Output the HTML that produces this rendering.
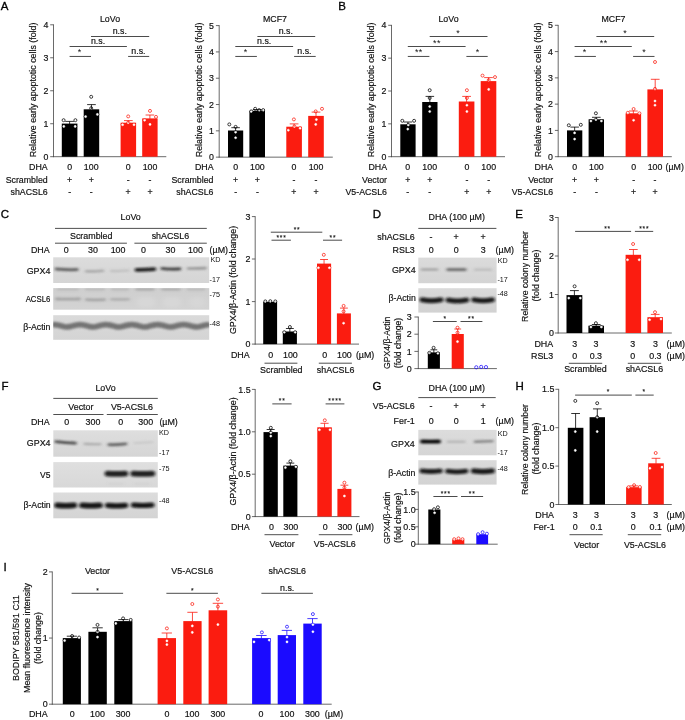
<!DOCTYPE html>
<html><head><meta charset="utf-8"><title>Figure</title>
<style>
html,body{margin:0;padding:0;background:#fff;}
svg{display:block;font-family:"Liberation Sans",sans-serif;}
text{stroke:#111;stroke-width:0.18px;}
</style></head>
<body>
<svg width="685" height="720" viewBox="0 0 685 720">
<defs>
<filter id="bl" filterUnits="userSpaceOnUse" x="0" y="200" width="685" height="340"><feGaussianBlur stdDeviation="1.4 0.85"/></filter>
<filter id="bl2" filterUnits="userSpaceOnUse" x="0" y="200" width="685" height="340"><feGaussianBlur stdDeviation="2.5 1.6"/></filter>
<filter id="bl3" filterUnits="userSpaceOnUse" x="0" y="200" width="685" height="340"><feGaussianBlur stdDeviation="1.3 1.2"/></filter>
</defs>
<rect width="685" height="720" fill="#fff"/>
<text x="0.80" y="9.60" font-size="11.5" fill="#000" style="stroke:#000;stroke-width:0.3px">A</text>
<text x="338.20" y="9.60" font-size="11.5" fill="#000" style="stroke:#000;stroke-width:0.3px">B</text>
<text x="0.80" y="218.20" font-size="11.5" fill="#000" style="stroke:#000;stroke-width:0.3px">C</text>
<text x="372.80" y="217.80" font-size="11.5" fill="#000" style="stroke:#000;stroke-width:0.3px">D</text>
<text x="515.20" y="218.20" font-size="11.5" fill="#000" style="stroke:#000;stroke-width:0.3px">E</text>
<text x="1.60" y="389.70" font-size="11.5" fill="#000" style="stroke:#000;stroke-width:0.3px">F</text>
<text x="372.40" y="389.70" font-size="11.5" fill="#000" style="stroke:#000;stroke-width:0.3px">G</text>
<text x="515.60" y="389.70" font-size="11.5" fill="#000" style="stroke:#000;stroke-width:0.3px">H</text>
<text x="3.40" y="570.70" font-size="11.5" fill="#000" style="stroke:#000;stroke-width:0.3px">I</text>
<line x1="53.50" y1="24.40" x2="53.50" y2="157.10" stroke="#444" stroke-width="0.8"/>
<line x1="53.10" y1="156.70" x2="166.30" y2="156.70" stroke="#444" stroke-width="0.8"/>
<line x1="50.20" y1="156.70" x2="53.50" y2="156.70" stroke="#444" stroke-width="0.8"/>
<text x="48.30" y="159.80" text-anchor="end" font-size="8.8" fill="#111">0</text>
<line x1="50.20" y1="123.72" x2="53.50" y2="123.72" stroke="#444" stroke-width="0.8"/>
<text x="48.30" y="126.82" text-anchor="end" font-size="8.8" fill="#111">1</text>
<line x1="50.20" y1="90.75" x2="53.50" y2="90.75" stroke="#444" stroke-width="0.8"/>
<text x="48.30" y="93.85" text-anchor="end" font-size="8.8" fill="#111">2</text>
<line x1="50.20" y1="57.78" x2="53.50" y2="57.78" stroke="#444" stroke-width="0.8"/>
<text x="48.30" y="60.88" text-anchor="end" font-size="8.8" fill="#111">3</text>
<line x1="50.20" y1="24.80" x2="53.50" y2="24.80" stroke="#444" stroke-width="0.8"/>
<text x="48.30" y="27.90" text-anchor="end" font-size="8.8" fill="#111">4</text>
<text x="110.00" y="21.90" text-anchor="middle" font-size="8.8" fill="#111">LoVo</text>
<text transform="translate(36.10,89.90) rotate(-90)" text-anchor="middle" font-size="8.85" fill="#111">Relative early apoptotic cells (fold)</text>
<line x1="69.60" y1="121.40" x2="69.60" y2="124.10" stroke="#000" stroke-width="0.8"/>
<line x1="65.23" y1="121.40" x2="73.97" y2="121.40" stroke="#000" stroke-width="0.8"/>
<rect x="61.80" y="123.60" width="15.60" height="33.10" fill="#000"/>
<clipPath id="c1"><rect x="61.80" y="123.60" width="15.60" height="33.10"/></clipPath>
<circle cx="63.60" cy="120.20" r="1.5" fill="none" stroke="#000" stroke-width="0.75"/>
<circle cx="63.60" cy="120.20" r="1.05" fill="#fff" stroke="#fff" stroke-width="0.5" clip-path="url(#c1)"/>
<circle cx="75.40" cy="120.20" r="1.5" fill="none" stroke="#000" stroke-width="0.75"/>
<circle cx="75.40" cy="120.20" r="1.05" fill="#fff" stroke="#fff" stroke-width="0.5" clip-path="url(#c1)"/>
<circle cx="63.80" cy="126.40" r="1.5" fill="none" stroke="#000" stroke-width="0.75"/>
<circle cx="63.80" cy="126.40" r="1.05" fill="#fff" stroke="#fff" stroke-width="0.5" clip-path="url(#c1)"/>
<circle cx="75.20" cy="126.40" r="1.5" fill="none" stroke="#000" stroke-width="0.75"/>
<circle cx="75.20" cy="126.40" r="1.05" fill="#fff" stroke="#fff" stroke-width="0.5" clip-path="url(#c1)"/>
<line x1="91.45" y1="104.60" x2="91.45" y2="109.80" stroke="#000" stroke-width="0.8"/>
<line x1="87.11" y1="104.60" x2="95.79" y2="104.60" stroke="#000" stroke-width="0.8"/>
<rect x="83.70" y="109.30" width="15.50" height="47.40" fill="#000"/>
<clipPath id="c2"><rect x="83.70" y="109.30" width="15.50" height="47.40"/></clipPath>
<circle cx="91.20" cy="96.80" r="1.5" fill="none" stroke="#000" stroke-width="0.75"/>
<circle cx="91.20" cy="96.80" r="1.05" fill="#fff" stroke="#fff" stroke-width="0.5" clip-path="url(#c2)"/>
<circle cx="91.20" cy="108.20" r="1.5" fill="none" stroke="#000" stroke-width="0.75"/>
<circle cx="91.20" cy="108.20" r="1.05" fill="#fff" stroke="#fff" stroke-width="0.5" clip-path="url(#c2)"/>
<circle cx="97.40" cy="114.40" r="1.5" fill="none" stroke="#000" stroke-width="0.75"/>
<circle cx="97.40" cy="114.40" r="1.05" fill="#fff" stroke="#fff" stroke-width="0.5" clip-path="url(#c2)"/>
<circle cx="85.60" cy="116.60" r="1.5" fill="none" stroke="#000" stroke-width="0.75"/>
<circle cx="85.60" cy="116.60" r="1.05" fill="#fff" stroke="#fff" stroke-width="0.5" clip-path="url(#c2)"/>
<line x1="128.35" y1="120.60" x2="128.35" y2="123.20" stroke="#fb1c10" stroke-width="0.8"/>
<line x1="124.01" y1="120.60" x2="132.69" y2="120.60" stroke="#fb1c10" stroke-width="0.8"/>
<rect x="120.60" y="122.70" width="15.50" height="34.00" fill="#fb1c10"/>
<clipPath id="c3"><rect x="120.60" y="122.70" width="15.50" height="34.00"/></clipPath>
<circle cx="128.20" cy="116.40" r="1.5" fill="none" stroke="#fb1c10" stroke-width="0.75"/>
<circle cx="128.20" cy="116.40" r="1.05" fill="#fff" stroke="#fff" stroke-width="0.5" clip-path="url(#c3)"/>
<circle cx="122.60" cy="124.70" r="1.5" fill="none" stroke="#fb1c10" stroke-width="0.75"/>
<circle cx="122.60" cy="124.70" r="1.05" fill="#fff" stroke="#fff" stroke-width="0.5" clip-path="url(#c3)"/>
<circle cx="134.00" cy="124.70" r="1.5" fill="none" stroke="#fb1c10" stroke-width="0.75"/>
<circle cx="134.00" cy="124.70" r="1.05" fill="#fff" stroke="#fff" stroke-width="0.5" clip-path="url(#c3)"/>
<circle cx="128.20" cy="122.60" r="1.5" fill="none" stroke="#fb1c10" stroke-width="0.75"/>
<circle cx="128.20" cy="122.60" r="1.05" fill="#fff" stroke="#fff" stroke-width="0.5" clip-path="url(#c3)"/>
<line x1="149.90" y1="115.00" x2="149.90" y2="118.90" stroke="#fb1c10" stroke-width="0.8"/>
<line x1="145.59" y1="115.00" x2="154.21" y2="115.00" stroke="#fb1c10" stroke-width="0.8"/>
<rect x="142.20" y="118.40" width="15.40" height="38.30" fill="#fb1c10"/>
<clipPath id="c4"><rect x="142.20" y="118.40" width="15.40" height="38.30"/></clipPath>
<circle cx="150.00" cy="110.90" r="1.5" fill="none" stroke="#fb1c10" stroke-width="0.75"/>
<circle cx="150.00" cy="110.90" r="1.05" fill="#fff" stroke="#fff" stroke-width="0.5" clip-path="url(#c4)"/>
<circle cx="156.00" cy="116.90" r="1.5" fill="none" stroke="#fb1c10" stroke-width="0.75"/>
<circle cx="156.00" cy="116.90" r="1.05" fill="#fff" stroke="#fff" stroke-width="0.5" clip-path="url(#c4)"/>
<circle cx="150.00" cy="124.40" r="1.5" fill="none" stroke="#fb1c10" stroke-width="0.75"/>
<circle cx="150.00" cy="124.40" r="1.05" fill="#fff" stroke="#fff" stroke-width="0.5" clip-path="url(#c4)"/>
<circle cx="144.60" cy="120.20" r="1.5" fill="none" stroke="#fb1c10" stroke-width="0.75"/>
<circle cx="144.60" cy="120.20" r="1.05" fill="#fff" stroke="#fff" stroke-width="0.5" clip-path="url(#c4)"/>
<line x1="91.00" y1="36.50" x2="149.20" y2="36.50" stroke="#2a2a2a" stroke-width="0.85"/>
<text x="119.80" y="33.80" text-anchor="middle" font-size="8.8" fill="#111">n.s.</text>
<line x1="69.60" y1="46.50" x2="126.90" y2="46.50" stroke="#2a2a2a" stroke-width="0.85"/>
<text x="98.00" y="43.80" text-anchor="middle" font-size="8.8" fill="#111">n.s.</text>
<line x1="69.60" y1="56.45" x2="91.00" y2="56.45" stroke="#2a2a2a" stroke-width="0.85"/>
<text x="79.60" y="55.45" text-anchor="middle" font-size="9.0" fill="#111" letter-spacing="0.4" style="stroke:none">*</text>
<line x1="128.10" y1="56.45" x2="149.20" y2="56.45" stroke="#2a2a2a" stroke-width="0.85"/>
<text x="138.40" y="53.75" text-anchor="middle" font-size="8.8" fill="#111">n.s.</text>
<text x="47.70" y="169.70" text-anchor="end" font-size="8.8" fill="#111">DHA</text>
<text x="69.60" y="169.70" text-anchor="middle" font-size="8.8" fill="#111">0</text>
<text x="91.20" y="169.70" text-anchor="middle" font-size="8.8" fill="#111">100</text>
<text x="128.10" y="169.70" text-anchor="middle" font-size="8.8" fill="#111">0</text>
<text x="150.00" y="169.70" text-anchor="middle" font-size="8.8" fill="#111">100</text>
<text x="47.70" y="182.90" text-anchor="end" font-size="8.8" fill="#111">Scrambled</text>
<text x="69.60" y="182.90" text-anchor="middle" font-size="8.8" fill="#111">+</text>
<text x="91.20" y="182.90" text-anchor="middle" font-size="8.8" fill="#111">+</text>
<text x="128.10" y="182.90" text-anchor="middle" font-size="8.8" fill="#111">-</text>
<text x="150.00" y="182.90" text-anchor="middle" font-size="8.8" fill="#111">-</text>
<text x="47.70" y="194.60" text-anchor="end" font-size="8.8" fill="#111">shACSL6</text>
<text x="69.60" y="194.60" text-anchor="middle" font-size="8.8" fill="#111">-</text>
<text x="91.20" y="194.60" text-anchor="middle" font-size="8.8" fill="#111">-</text>
<text x="128.10" y="194.60" text-anchor="middle" font-size="8.8" fill="#111">+</text>
<text x="150.00" y="194.60" text-anchor="middle" font-size="8.8" fill="#111">+</text>
<line x1="219.20" y1="25.20" x2="219.20" y2="157.55" stroke="#444" stroke-width="0.8"/>
<line x1="218.80" y1="157.15" x2="332.80" y2="157.15" stroke="#444" stroke-width="0.8"/>
<line x1="215.90" y1="157.15" x2="219.20" y2="157.15" stroke="#444" stroke-width="0.8"/>
<text x="214.00" y="160.25" text-anchor="end" font-size="8.8" fill="#111">0</text>
<line x1="215.90" y1="130.84" x2="219.20" y2="130.84" stroke="#444" stroke-width="0.8"/>
<text x="214.00" y="133.94" text-anchor="end" font-size="8.8" fill="#111">1</text>
<line x1="215.90" y1="104.53" x2="219.20" y2="104.53" stroke="#444" stroke-width="0.8"/>
<text x="214.00" y="107.63" text-anchor="end" font-size="8.8" fill="#111">2</text>
<line x1="215.90" y1="78.22" x2="219.20" y2="78.22" stroke="#444" stroke-width="0.8"/>
<text x="214.00" y="81.32" text-anchor="end" font-size="8.8" fill="#111">3</text>
<line x1="215.90" y1="51.91" x2="219.20" y2="51.91" stroke="#444" stroke-width="0.8"/>
<text x="214.00" y="55.01" text-anchor="end" font-size="8.8" fill="#111">4</text>
<line x1="215.90" y1="25.60" x2="219.20" y2="25.60" stroke="#444" stroke-width="0.8"/>
<text x="214.00" y="28.70" text-anchor="end" font-size="8.8" fill="#111">5</text>
<text x="275.00" y="21.90" text-anchor="middle" font-size="8.8" fill="#111">MCF7</text>
<text transform="translate(201.70,89.90) rotate(-90)" text-anchor="middle" font-size="8.85" fill="#111">Relative early apoptotic cells (fold)</text>
<line x1="235.60" y1="127.70" x2="235.60" y2="131.00" stroke="#000" stroke-width="0.8"/>
<line x1="231.34" y1="127.70" x2="239.86" y2="127.70" stroke="#000" stroke-width="0.8"/>
<rect x="228.00" y="130.50" width="15.20" height="26.65" fill="#000"/>
<clipPath id="c5"><rect x="228.00" y="130.50" width="15.20" height="26.65"/></clipPath>
<circle cx="229.30" cy="124.40" r="1.5" fill="none" stroke="#000" stroke-width="0.75"/>
<circle cx="229.30" cy="124.40" r="1.05" fill="#fff" stroke="#fff" stroke-width="0.5" clip-path="url(#c5)"/>
<circle cx="235.60" cy="126.90" r="1.5" fill="none" stroke="#000" stroke-width="0.75"/>
<circle cx="235.60" cy="126.90" r="1.05" fill="#fff" stroke="#fff" stroke-width="0.5" clip-path="url(#c5)"/>
<circle cx="235.60" cy="132.20" r="1.5" fill="none" stroke="#000" stroke-width="0.75"/>
<circle cx="235.60" cy="132.20" r="1.05" fill="#fff" stroke="#fff" stroke-width="0.5" clip-path="url(#c5)"/>
<circle cx="235.60" cy="137.70" r="1.5" fill="none" stroke="#000" stroke-width="0.75"/>
<circle cx="235.60" cy="137.70" r="1.05" fill="#fff" stroke="#fff" stroke-width="0.5" clip-path="url(#c5)"/>
<line x1="257.20" y1="109.60" x2="257.20" y2="111.40" stroke="#000" stroke-width="0.8"/>
<line x1="252.83" y1="109.60" x2="261.57" y2="109.60" stroke="#000" stroke-width="0.8"/>
<rect x="249.40" y="110.90" width="15.60" height="46.25" fill="#000"/>
<clipPath id="c6"><rect x="249.40" y="110.90" width="15.60" height="46.25"/></clipPath>
<circle cx="251.20" cy="111.40" r="1.5" fill="none" stroke="#000" stroke-width="0.75"/>
<circle cx="251.20" cy="111.40" r="1.05" fill="#fff" stroke="#fff" stroke-width="0.5" clip-path="url(#c6)"/>
<circle cx="255.20" cy="108.80" r="1.5" fill="none" stroke="#000" stroke-width="0.75"/>
<circle cx="255.20" cy="108.80" r="1.05" fill="#fff" stroke="#fff" stroke-width="0.5" clip-path="url(#c6)"/>
<circle cx="259.20" cy="110.10" r="1.5" fill="none" stroke="#000" stroke-width="0.75"/>
<circle cx="259.20" cy="110.10" r="1.05" fill="#fff" stroke="#fff" stroke-width="0.5" clip-path="url(#c6)"/>
<circle cx="263.20" cy="110.10" r="1.5" fill="none" stroke="#000" stroke-width="0.75"/>
<circle cx="263.20" cy="110.10" r="1.05" fill="#fff" stroke="#fff" stroke-width="0.5" clip-path="url(#c6)"/>
<line x1="294.10" y1="123.90" x2="294.10" y2="127.20" stroke="#fb1c10" stroke-width="0.8"/>
<line x1="289.73" y1="123.90" x2="298.47" y2="123.90" stroke="#fb1c10" stroke-width="0.8"/>
<rect x="286.30" y="126.70" width="15.60" height="30.45" fill="#fb1c10"/>
<clipPath id="c7"><rect x="286.30" y="126.70" width="15.60" height="30.45"/></clipPath>
<circle cx="293.90" cy="119.40" r="1.5" fill="none" stroke="#fb1c10" stroke-width="0.75"/>
<circle cx="293.90" cy="119.40" r="1.05" fill="#fff" stroke="#fff" stroke-width="0.5" clip-path="url(#c7)"/>
<circle cx="288.30" cy="130.20" r="1.5" fill="none" stroke="#fb1c10" stroke-width="0.75"/>
<circle cx="288.30" cy="130.20" r="1.05" fill="#fff" stroke="#fff" stroke-width="0.5" clip-path="url(#c7)"/>
<circle cx="294.40" cy="126.40" r="1.5" fill="none" stroke="#fb1c10" stroke-width="0.75"/>
<circle cx="294.40" cy="126.40" r="1.05" fill="#fff" stroke="#fff" stroke-width="0.5" clip-path="url(#c7)"/>
<circle cx="300.10" cy="128.20" r="1.5" fill="none" stroke="#fb1c10" stroke-width="0.75"/>
<circle cx="300.10" cy="128.20" r="1.05" fill="#fff" stroke="#fff" stroke-width="0.5" clip-path="url(#c7)"/>
<line x1="316.00" y1="112.10" x2="316.00" y2="116.40" stroke="#fb1c10" stroke-width="0.8"/>
<line x1="311.63" y1="112.10" x2="320.37" y2="112.10" stroke="#fb1c10" stroke-width="0.8"/>
<rect x="308.20" y="115.90" width="15.60" height="41.25" fill="#fb1c10"/>
<clipPath id="c8"><rect x="308.20" y="115.90" width="15.60" height="41.25"/></clipPath>
<circle cx="322.00" cy="108.80" r="1.5" fill="none" stroke="#fb1c10" stroke-width="0.75"/>
<circle cx="322.00" cy="108.80" r="1.05" fill="#fff" stroke="#fff" stroke-width="0.5" clip-path="url(#c8)"/>
<circle cx="315.70" cy="111.40" r="1.5" fill="none" stroke="#fb1c10" stroke-width="0.75"/>
<circle cx="315.70" cy="111.40" r="1.05" fill="#fff" stroke="#fff" stroke-width="0.5" clip-path="url(#c8)"/>
<circle cx="316.40" cy="119.60" r="1.5" fill="none" stroke="#fb1c10" stroke-width="0.75"/>
<circle cx="316.40" cy="119.60" r="1.05" fill="#fff" stroke="#fff" stroke-width="0.5" clip-path="url(#c8)"/>
<circle cx="315.70" cy="124.40" r="1.5" fill="none" stroke="#fb1c10" stroke-width="0.75"/>
<circle cx="315.70" cy="124.40" r="1.05" fill="#fff" stroke="#fff" stroke-width="0.5" clip-path="url(#c8)"/>
<line x1="257.40" y1="36.50" x2="315.20" y2="36.50" stroke="#2a2a2a" stroke-width="0.85"/>
<text x="285.80" y="33.80" text-anchor="middle" font-size="8.8" fill="#111">n.s.</text>
<line x1="235.30" y1="46.50" x2="293.10" y2="46.50" stroke="#2a2a2a" stroke-width="0.85"/>
<text x="264.20" y="43.80" text-anchor="middle" font-size="8.8" fill="#111">n.s.</text>
<line x1="235.30" y1="56.45" x2="256.90" y2="56.45" stroke="#2a2a2a" stroke-width="0.85"/>
<text x="245.60" y="55.45" text-anchor="middle" font-size="9.0" fill="#111" letter-spacing="0.4" style="stroke:none">*</text>
<line x1="294.10" y1="56.45" x2="315.70" y2="56.45" stroke="#2a2a2a" stroke-width="0.85"/>
<text x="304.40" y="53.75" text-anchor="middle" font-size="8.8" fill="#111">n.s.</text>
<text x="213.50" y="169.70" text-anchor="end" font-size="8.8" fill="#111">DHA</text>
<text x="235.60" y="169.70" text-anchor="middle" font-size="8.8" fill="#111">0</text>
<text x="257.40" y="169.70" text-anchor="middle" font-size="8.8" fill="#111">100</text>
<text x="293.90" y="169.70" text-anchor="middle" font-size="8.8" fill="#111">0</text>
<text x="316.00" y="169.70" text-anchor="middle" font-size="8.8" fill="#111">100</text>
<text x="213.50" y="182.90" text-anchor="end" font-size="8.8" fill="#111">Scrambled</text>
<text x="235.60" y="182.90" text-anchor="middle" font-size="8.8" fill="#111">+</text>
<text x="257.40" y="182.90" text-anchor="middle" font-size="8.8" fill="#111">+</text>
<text x="293.90" y="182.90" text-anchor="middle" font-size="8.8" fill="#111">-</text>
<text x="316.00" y="182.90" text-anchor="middle" font-size="8.8" fill="#111">-</text>
<text x="213.50" y="194.60" text-anchor="end" font-size="8.8" fill="#111">shACSL6</text>
<text x="235.60" y="194.60" text-anchor="middle" font-size="8.8" fill="#111">-</text>
<text x="257.40" y="194.60" text-anchor="middle" font-size="8.8" fill="#111">-</text>
<text x="293.90" y="194.60" text-anchor="middle" font-size="8.8" fill="#111">+</text>
<text x="316.00" y="194.60" text-anchor="middle" font-size="8.8" fill="#111">+</text>
<line x1="391.50" y1="24.90" x2="391.50" y2="157.10" stroke="#444" stroke-width="0.8"/>
<line x1="391.10" y1="156.70" x2="505.00" y2="156.70" stroke="#444" stroke-width="0.8"/>
<line x1="388.20" y1="156.70" x2="391.50" y2="156.70" stroke="#444" stroke-width="0.8"/>
<text x="386.30" y="159.80" text-anchor="end" font-size="8.8" fill="#111">0</text>
<line x1="388.20" y1="123.85" x2="391.50" y2="123.85" stroke="#444" stroke-width="0.8"/>
<text x="386.30" y="126.95" text-anchor="end" font-size="8.8" fill="#111">1</text>
<line x1="388.20" y1="91.00" x2="391.50" y2="91.00" stroke="#444" stroke-width="0.8"/>
<text x="386.30" y="94.10" text-anchor="end" font-size="8.8" fill="#111">2</text>
<line x1="388.20" y1="58.15" x2="391.50" y2="58.15" stroke="#444" stroke-width="0.8"/>
<text x="386.30" y="61.25" text-anchor="end" font-size="8.8" fill="#111">3</text>
<line x1="388.20" y1="25.30" x2="391.50" y2="25.30" stroke="#444" stroke-width="0.8"/>
<text x="386.30" y="28.40" text-anchor="end" font-size="8.8" fill="#111">4</text>
<text x="448.50" y="21.90" text-anchor="middle" font-size="8.8" fill="#111">LoVo</text>
<text transform="translate(374.10,89.90) rotate(-90)" text-anchor="middle" font-size="8.85" fill="#111">Relative early apoptotic cells (fold)</text>
<line x1="407.95" y1="122.00" x2="407.95" y2="124.80" stroke="#000" stroke-width="0.8"/>
<line x1="403.67" y1="122.00" x2="412.23" y2="122.00" stroke="#000" stroke-width="0.8"/>
<rect x="400.30" y="124.30" width="15.30" height="32.40" fill="#000"/>
<clipPath id="c9"><rect x="400.30" y="124.30" width="15.30" height="32.40"/></clipPath>
<circle cx="402.30" cy="120.80" r="1.5" fill="none" stroke="#000" stroke-width="0.75"/>
<circle cx="402.30" cy="120.80" r="1.05" fill="#fff" stroke="#fff" stroke-width="0.5" clip-path="url(#c9)"/>
<circle cx="414.10" cy="120.80" r="1.5" fill="none" stroke="#000" stroke-width="0.75"/>
<circle cx="414.10" cy="120.80" r="1.05" fill="#fff" stroke="#fff" stroke-width="0.5" clip-path="url(#c9)"/>
<circle cx="407.80" cy="129.10" r="1.5" fill="none" stroke="#000" stroke-width="0.75"/>
<circle cx="407.80" cy="129.10" r="1.05" fill="#fff" stroke="#fff" stroke-width="0.5" clip-path="url(#c9)"/>
<circle cx="408.30" cy="124.90" r="1.5" fill="none" stroke="#000" stroke-width="0.75"/>
<circle cx="408.30" cy="124.90" r="1.05" fill="#fff" stroke="#fff" stroke-width="0.5" clip-path="url(#c9)"/>
<line x1="429.85" y1="96.40" x2="429.85" y2="102.50" stroke="#000" stroke-width="0.8"/>
<line x1="425.57" y1="96.40" x2="434.13" y2="96.40" stroke="#000" stroke-width="0.8"/>
<rect x="422.20" y="102.00" width="15.30" height="54.70" fill="#000"/>
<clipPath id="c10"><rect x="422.20" y="102.00" width="15.30" height="54.70"/></clipPath>
<circle cx="429.70" cy="90.20" r="1.5" fill="none" stroke="#000" stroke-width="0.75"/>
<circle cx="429.70" cy="90.20" r="1.05" fill="#fff" stroke="#fff" stroke-width="0.5" clip-path="url(#c10)"/>
<circle cx="429.70" cy="106.50" r="1.5" fill="none" stroke="#000" stroke-width="0.75"/>
<circle cx="429.70" cy="106.50" r="1.05" fill="#fff" stroke="#fff" stroke-width="0.5" clip-path="url(#c10)"/>
<circle cx="429.70" cy="111.50" r="1.5" fill="none" stroke="#000" stroke-width="0.75"/>
<circle cx="429.70" cy="111.50" r="1.05" fill="#fff" stroke="#fff" stroke-width="0.5" clip-path="url(#c10)"/>
<circle cx="429.70" cy="98.00" r="1.5" fill="none" stroke="#000" stroke-width="0.75"/>
<circle cx="429.70" cy="98.00" r="1.05" fill="#fff" stroke="#fff" stroke-width="0.5" clip-path="url(#c10)"/>
<line x1="466.60" y1="96.40" x2="466.60" y2="102.00" stroke="#fb1c10" stroke-width="0.8"/>
<line x1="462.23" y1="96.40" x2="470.97" y2="96.40" stroke="#fb1c10" stroke-width="0.8"/>
<rect x="458.80" y="101.50" width="15.60" height="55.20" fill="#fb1c10"/>
<clipPath id="c11"><rect x="458.80" y="101.50" width="15.60" height="55.20"/></clipPath>
<circle cx="466.90" cy="90.20" r="1.5" fill="none" stroke="#fb1c10" stroke-width="0.75"/>
<circle cx="466.90" cy="90.20" r="1.05" fill="#fff" stroke="#fff" stroke-width="0.5" clip-path="url(#c11)"/>
<circle cx="466.90" cy="105.20" r="1.5" fill="none" stroke="#fb1c10" stroke-width="0.75"/>
<circle cx="466.90" cy="105.20" r="1.05" fill="#fff" stroke="#fff" stroke-width="0.5" clip-path="url(#c11)"/>
<circle cx="466.90" cy="111.50" r="1.5" fill="none" stroke="#fb1c10" stroke-width="0.75"/>
<circle cx="466.90" cy="111.50" r="1.05" fill="#fff" stroke="#fff" stroke-width="0.5" clip-path="url(#c11)"/>
<circle cx="466.90" cy="98.00" r="1.5" fill="none" stroke="#fb1c10" stroke-width="0.75"/>
<circle cx="466.90" cy="98.00" r="1.05" fill="#fff" stroke="#fff" stroke-width="0.5" clip-path="url(#c11)"/>
<line x1="488.50" y1="77.60" x2="488.50" y2="81.60" stroke="#fb1c10" stroke-width="0.8"/>
<line x1="484.13" y1="77.60" x2="492.87" y2="77.60" stroke="#fb1c10" stroke-width="0.8"/>
<rect x="480.70" y="81.10" width="15.60" height="75.60" fill="#fb1c10"/>
<clipPath id="c12"><rect x="480.70" y="81.10" width="15.60" height="75.60"/></clipPath>
<circle cx="482.50" cy="75.60" r="1.5" fill="none" stroke="#fb1c10" stroke-width="0.75"/>
<circle cx="482.50" cy="75.60" r="1.05" fill="#fff" stroke="#fff" stroke-width="0.5" clip-path="url(#c12)"/>
<circle cx="495.00" cy="77.10" r="1.5" fill="none" stroke="#fb1c10" stroke-width="0.75"/>
<circle cx="495.00" cy="77.10" r="1.05" fill="#fff" stroke="#fff" stroke-width="0.5" clip-path="url(#c12)"/>
<circle cx="488.70" cy="80.10" r="1.5" fill="none" stroke="#fb1c10" stroke-width="0.75"/>
<circle cx="488.70" cy="80.10" r="1.05" fill="#fff" stroke="#fff" stroke-width="0.5" clip-path="url(#c12)"/>
<circle cx="488.70" cy="89.40" r="1.5" fill="none" stroke="#fb1c10" stroke-width="0.75"/>
<circle cx="488.70" cy="89.40" r="1.05" fill="#fff" stroke="#fff" stroke-width="0.5" clip-path="url(#c12)"/>
<line x1="429.70" y1="36.50" x2="487.50" y2="36.50" stroke="#2a2a2a" stroke-width="0.85"/>
<text x="458.30" y="35.50" text-anchor="middle" font-size="9.0" fill="#111" letter-spacing="0.4" style="stroke:none">*</text>
<line x1="407.80" y1="46.50" x2="465.60" y2="46.50" stroke="#2a2a2a" stroke-width="0.85"/>
<text x="436.90" y="45.50" text-anchor="middle" font-size="9.0" fill="#111" letter-spacing="0.4" style="stroke:none">**</text>
<line x1="407.80" y1="56.45" x2="429.40" y2="56.45" stroke="#2a2a2a" stroke-width="0.85"/>
<text x="418.80" y="55.45" text-anchor="middle" font-size="9.0" fill="#111" letter-spacing="0.4" style="stroke:none">**</text>
<line x1="466.40" y1="56.45" x2="487.70" y2="56.45" stroke="#2a2a2a" stroke-width="0.85"/>
<text x="477.60" y="55.45" text-anchor="middle" font-size="9.0" fill="#111" letter-spacing="0.4" style="stroke:none">*</text>
<text x="387.00" y="169.70" text-anchor="end" font-size="8.8" fill="#111">DHA</text>
<text x="407.80" y="169.70" text-anchor="middle" font-size="8.8" fill="#111">0</text>
<text x="429.70" y="169.70" text-anchor="middle" font-size="8.8" fill="#111">100</text>
<text x="466.90" y="169.70" text-anchor="middle" font-size="8.8" fill="#111">0</text>
<text x="488.70" y="169.70" text-anchor="middle" font-size="8.8" fill="#111">100</text>
<text x="387.00" y="182.90" text-anchor="end" font-size="8.8" fill="#111">Vector</text>
<text x="407.80" y="182.90" text-anchor="middle" font-size="8.8" fill="#111">+</text>
<text x="429.70" y="182.90" text-anchor="middle" font-size="8.8" fill="#111">+</text>
<text x="466.90" y="182.90" text-anchor="middle" font-size="8.8" fill="#111">-</text>
<text x="488.70" y="182.90" text-anchor="middle" font-size="8.8" fill="#111">-</text>
<text x="387.00" y="194.60" text-anchor="end" font-size="8.8" fill="#111">V5-ACSL6</text>
<text x="407.80" y="194.60" text-anchor="middle" font-size="8.8" fill="#111">-</text>
<text x="429.70" y="194.60" text-anchor="middle" font-size="8.8" fill="#111">-</text>
<text x="466.90" y="194.60" text-anchor="middle" font-size="8.8" fill="#111">+</text>
<text x="488.70" y="194.60" text-anchor="middle" font-size="8.8" fill="#111">+</text>
<line x1="558.20" y1="24.90" x2="558.20" y2="157.10" stroke="#444" stroke-width="0.8"/>
<line x1="557.80" y1="156.70" x2="671.80" y2="156.70" stroke="#444" stroke-width="0.8"/>
<line x1="554.90" y1="156.70" x2="558.20" y2="156.70" stroke="#444" stroke-width="0.8"/>
<text x="553.00" y="159.80" text-anchor="end" font-size="8.8" fill="#111">0</text>
<line x1="554.90" y1="130.42" x2="558.20" y2="130.42" stroke="#444" stroke-width="0.8"/>
<text x="553.00" y="133.52" text-anchor="end" font-size="8.8" fill="#111">1</text>
<line x1="554.90" y1="104.14" x2="558.20" y2="104.14" stroke="#444" stroke-width="0.8"/>
<text x="553.00" y="107.24" text-anchor="end" font-size="8.8" fill="#111">2</text>
<line x1="554.90" y1="77.86" x2="558.20" y2="77.86" stroke="#444" stroke-width="0.8"/>
<text x="553.00" y="80.96" text-anchor="end" font-size="8.8" fill="#111">3</text>
<line x1="554.90" y1="51.58" x2="558.20" y2="51.58" stroke="#444" stroke-width="0.8"/>
<text x="553.00" y="54.68" text-anchor="end" font-size="8.8" fill="#111">4</text>
<line x1="554.90" y1="25.30" x2="558.20" y2="25.30" stroke="#444" stroke-width="0.8"/>
<text x="553.00" y="28.40" text-anchor="end" font-size="8.8" fill="#111">5</text>
<text x="613.50" y="21.90" text-anchor="middle" font-size="8.8" fill="#111">MCF7</text>
<text transform="translate(540.70,89.90) rotate(-90)" text-anchor="middle" font-size="8.85" fill="#111">Relative early apoptotic cells (fold)</text>
<line x1="574.65" y1="127.10" x2="574.65" y2="130.90" stroke="#000" stroke-width="0.8"/>
<line x1="570.37" y1="127.10" x2="578.93" y2="127.10" stroke="#000" stroke-width="0.8"/>
<rect x="567.00" y="130.40" width="15.30" height="26.30" fill="#000"/>
<clipPath id="c13"><rect x="567.00" y="130.40" width="15.30" height="26.30"/></clipPath>
<circle cx="568.80" cy="125.30" r="1.5" fill="none" stroke="#000" stroke-width="0.75"/>
<circle cx="568.80" cy="125.30" r="1.05" fill="#fff" stroke="#fff" stroke-width="0.5" clip-path="url(#c13)"/>
<circle cx="580.80" cy="124.80" r="1.5" fill="none" stroke="#000" stroke-width="0.75"/>
<circle cx="580.80" cy="124.80" r="1.05" fill="#fff" stroke="#fff" stroke-width="0.5" clip-path="url(#c13)"/>
<circle cx="574.60" cy="132.90" r="1.5" fill="none" stroke="#000" stroke-width="0.75"/>
<circle cx="574.60" cy="132.90" r="1.05" fill="#fff" stroke="#fff" stroke-width="0.5" clip-path="url(#c13)"/>
<circle cx="574.60" cy="139.10" r="1.5" fill="none" stroke="#000" stroke-width="0.75"/>
<circle cx="574.60" cy="139.10" r="1.05" fill="#fff" stroke="#fff" stroke-width="0.5" clip-path="url(#c13)"/>
<line x1="596.30" y1="117.30" x2="596.30" y2="119.80" stroke="#000" stroke-width="0.8"/>
<line x1="591.99" y1="117.30" x2="600.61" y2="117.30" stroke="#000" stroke-width="0.8"/>
<rect x="588.60" y="119.30" width="15.40" height="37.40" fill="#000"/>
<clipPath id="c14"><rect x="588.60" y="119.30" width="15.40" height="37.40"/></clipPath>
<circle cx="595.90" cy="113.30" r="1.5" fill="none" stroke="#000" stroke-width="0.75"/>
<circle cx="595.90" cy="113.30" r="1.05" fill="#fff" stroke="#fff" stroke-width="0.5" clip-path="url(#c14)"/>
<circle cx="590.90" cy="121.00" r="1.5" fill="none" stroke="#000" stroke-width="0.75"/>
<circle cx="590.90" cy="121.00" r="1.05" fill="#fff" stroke="#fff" stroke-width="0.5" clip-path="url(#c14)"/>
<circle cx="595.90" cy="119.60" r="1.5" fill="none" stroke="#000" stroke-width="0.75"/>
<circle cx="595.90" cy="119.60" r="1.05" fill="#fff" stroke="#fff" stroke-width="0.5" clip-path="url(#c14)"/>
<circle cx="601.40" cy="121.00" r="1.5" fill="none" stroke="#000" stroke-width="0.75"/>
<circle cx="601.40" cy="121.00" r="1.05" fill="#fff" stroke="#fff" stroke-width="0.5" clip-path="url(#c14)"/>
<line x1="633.35" y1="111.00" x2="633.35" y2="113.80" stroke="#fb1c10" stroke-width="0.8"/>
<line x1="629.01" y1="111.00" x2="637.69" y2="111.00" stroke="#fb1c10" stroke-width="0.8"/>
<rect x="625.60" y="113.30" width="15.50" height="43.40" fill="#fb1c10"/>
<clipPath id="c15"><rect x="625.60" y="113.30" width="15.50" height="43.40"/></clipPath>
<circle cx="633.60" cy="109.00" r="1.5" fill="none" stroke="#fb1c10" stroke-width="0.75"/>
<circle cx="633.60" cy="109.00" r="1.05" fill="#fff" stroke="#fff" stroke-width="0.5" clip-path="url(#c15)"/>
<circle cx="627.80" cy="112.80" r="1.5" fill="none" stroke="#fb1c10" stroke-width="0.75"/>
<circle cx="627.80" cy="112.80" r="1.05" fill="#fff" stroke="#fff" stroke-width="0.5" clip-path="url(#c15)"/>
<circle cx="639.40" cy="113.30" r="1.5" fill="none" stroke="#fb1c10" stroke-width="0.75"/>
<circle cx="639.40" cy="113.30" r="1.05" fill="#fff" stroke="#fff" stroke-width="0.5" clip-path="url(#c15)"/>
<circle cx="633.60" cy="120.30" r="1.5" fill="none" stroke="#fb1c10" stroke-width="0.75"/>
<circle cx="633.60" cy="120.30" r="1.05" fill="#fff" stroke="#fff" stroke-width="0.5" clip-path="url(#c15)"/>
<line x1="655.20" y1="79.30" x2="655.20" y2="89.90" stroke="#fb1c10" stroke-width="0.8"/>
<line x1="650.83" y1="79.30" x2="659.57" y2="79.30" stroke="#fb1c10" stroke-width="0.8"/>
<rect x="647.40" y="89.40" width="15.60" height="67.30" fill="#fb1c10"/>
<clipPath id="c16"><rect x="647.40" y="89.40" width="15.60" height="67.30"/></clipPath>
<circle cx="655.00" cy="62.00" r="1.5" fill="none" stroke="#fb1c10" stroke-width="0.75"/>
<circle cx="655.00" cy="62.00" r="1.05" fill="#fff" stroke="#fff" stroke-width="0.5" clip-path="url(#c16)"/>
<circle cx="655.00" cy="88.90" r="1.5" fill="none" stroke="#fb1c10" stroke-width="0.75"/>
<circle cx="655.00" cy="88.90" r="1.05" fill="#fff" stroke="#fff" stroke-width="0.5" clip-path="url(#c16)"/>
<circle cx="655.00" cy="101.00" r="1.5" fill="none" stroke="#fb1c10" stroke-width="0.75"/>
<circle cx="655.00" cy="101.00" r="1.05" fill="#fff" stroke="#fff" stroke-width="0.5" clip-path="url(#c16)"/>
<circle cx="655.00" cy="105.20" r="1.5" fill="none" stroke="#fb1c10" stroke-width="0.75"/>
<circle cx="655.00" cy="105.20" r="1.05" fill="#fff" stroke="#fff" stroke-width="0.5" clip-path="url(#c16)"/>
<line x1="596.40" y1="36.50" x2="654.20" y2="36.50" stroke="#2a2a2a" stroke-width="0.85"/>
<text x="625.20" y="35.50" text-anchor="middle" font-size="9.0" fill="#111" letter-spacing="0.4" style="stroke:none">*</text>
<line x1="574.60" y1="46.50" x2="631.80" y2="46.50" stroke="#2a2a2a" stroke-width="0.85"/>
<text x="603.70" y="45.50" text-anchor="middle" font-size="9.0" fill="#111" letter-spacing="0.4" style="stroke:none">**</text>
<line x1="574.60" y1="56.45" x2="595.90" y2="56.45" stroke="#2a2a2a" stroke-width="0.85"/>
<text x="584.80" y="55.45" text-anchor="middle" font-size="9.0" fill="#111" letter-spacing="0.4" style="stroke:none">*</text>
<line x1="633.10" y1="56.45" x2="654.50" y2="56.45" stroke="#2a2a2a" stroke-width="0.85"/>
<text x="644.10" y="55.45" text-anchor="middle" font-size="9.0" fill="#111" letter-spacing="0.4" style="stroke:none">*</text>
<text x="553.20" y="169.70" text-anchor="end" font-size="8.8" fill="#111">DHA</text>
<text x="574.60" y="169.70" text-anchor="middle" font-size="8.8" fill="#111">0</text>
<text x="596.40" y="169.70" text-anchor="middle" font-size="8.8" fill="#111">100</text>
<text x="633.60" y="169.70" text-anchor="middle" font-size="8.8" fill="#111">0</text>
<text x="655.00" y="169.70" text-anchor="middle" font-size="8.8" fill="#111">100</text>
<text x="665.60" y="169.70" font-size="8.8" fill="#111">(µM)</text>
<text x="553.20" y="182.90" text-anchor="end" font-size="8.8" fill="#111">Vector</text>
<text x="574.60" y="182.90" text-anchor="middle" font-size="8.8" fill="#111">+</text>
<text x="596.40" y="182.90" text-anchor="middle" font-size="8.8" fill="#111">+</text>
<text x="633.60" y="182.90" text-anchor="middle" font-size="8.8" fill="#111">-</text>
<text x="655.00" y="182.90" text-anchor="middle" font-size="8.8" fill="#111">-</text>
<text x="553.20" y="194.60" text-anchor="end" font-size="8.8" fill="#111">V5-ACSL6</text>
<text x="574.60" y="194.60" text-anchor="middle" font-size="8.8" fill="#111">-</text>
<text x="596.40" y="194.60" text-anchor="middle" font-size="8.8" fill="#111">-</text>
<text x="633.60" y="194.60" text-anchor="middle" font-size="8.8" fill="#111">+</text>
<text x="655.00" y="194.60" text-anchor="middle" font-size="8.8" fill="#111">+</text>
<text x="130.70" y="220.10" text-anchor="middle" font-size="8.9" fill="#111">LoVo</text>
<line x1="55.00" y1="228.40" x2="206.80" y2="228.40" stroke="#222" stroke-width="0.8"/>
<text x="91.20" y="239.40" text-anchor="middle" font-size="8.9" fill="#111">Scrambled</text>
<line x1="55.00" y1="243.20" x2="126.90" y2="243.20" stroke="#222" stroke-width="0.8"/>
<text x="170.40" y="239.40" text-anchor="middle" font-size="8.9" fill="#111">shACSL6</text>
<line x1="134.40" y1="243.20" x2="206.80" y2="243.20" stroke="#222" stroke-width="0.8"/>
<text x="49.70" y="252.80" text-anchor="end" font-size="8.9" fill="#111">DHA</text>
<text x="66.10" y="252.80" text-anchor="middle" font-size="8.9" fill="#111">0</text>
<text x="93.00" y="252.80" text-anchor="middle" font-size="8.9" fill="#111">30</text>
<text x="118.10" y="252.80" text-anchor="middle" font-size="8.9" fill="#111">100</text>
<text x="143.50" y="252.80" text-anchor="middle" font-size="8.9" fill="#111">0</text>
<text x="170.40" y="252.80" text-anchor="middle" font-size="8.9" fill="#111">30</text>
<text x="195.50" y="252.80" text-anchor="middle" font-size="8.9" fill="#111">100</text>
<text x="209.60" y="252.80" font-size="8.9" fill="#111">(µM)</text>
<text x="210.40" y="261.80" font-size="7.2" fill="#111" style="stroke:none">KD</text>
<clipPath id="bC1"><rect x="53.20" y="257.30" width="156.00" height="25.70"/></clipPath>
<linearGradient id="bC1g" x1="0" y1="0" x2="0" y2="1"><stop offset="0" stop-color="#dcdcdc"/><stop offset="1" stop-color="#d5d5d5"/></linearGradient>
<rect x="53.20" y="257.30" width="156.00" height="25.70" fill="url(#bC1g)"/>
<g clip-path="url(#bC1)" fill="none" stroke-linecap="round">
<path d="M56.10,269.00 Q66.60,269.90 77.10,269.60" stroke="#333" stroke-opacity="0.72" stroke-width="3.00" filter="url(#bl)"/>
<path d="M86.10,271.30 Q94.60,271.60 103.10,270.70" stroke="#666" stroke-opacity="0.42" stroke-width="2.60" filter="url(#bl)"/>
<path d="M111.20,271.00 Q119.80,271.10 128.40,270.40" stroke="#777" stroke-opacity="0.26" stroke-width="2.40" filter="url(#bl)"/>
<path d="M136.50,269.80 Q145.40,269.90 154.30,269.20" stroke="#111" stroke-opacity="0.92" stroke-width="3.80" filter="url(#bl)"/>
<path d="M162.00,268.50 Q170.90,269.30 179.80,268.90" stroke="#222" stroke-opacity="0.78" stroke-width="3.20" filter="url(#bl)"/>
<path d="M188.10,268.50 Q196.80,268.70 205.50,268.10" stroke="#555" stroke-opacity="0.5" stroke-width="2.60" filter="url(#bl)"/>
</g>
<text x="50.40" y="273.80" text-anchor="end" font-size="8.9" fill="#111">GPX4</text>
<text x="209.60" y="281.90" font-size="7.2" fill="#111" style="stroke:none">-17</text>
<clipPath id="bC2"><rect x="53.20" y="288.10" width="156.00" height="21.60"/></clipPath>
<linearGradient id="bC2g" x1="0" y1="0" x2="0" y2="1"><stop offset="0" stop-color="#cfcfcf"/><stop offset="1" stop-color="#d3d3d3"/></linearGradient>
<rect x="53.20" y="288.10" width="156.00" height="21.60" fill="url(#bC2g)"/>
<g clip-path="url(#bC2)" fill="none" stroke-linecap="round">
<path d="M56.40,299.00 Q68.00,299.40 79.60,299.00" stroke="#666" stroke-opacity="0.42" stroke-width="2.80" filter="url(#bl)"/>
<path d="M86.40,299.60 Q95.50,300.00 104.60,299.60" stroke="#666" stroke-opacity="0.42" stroke-width="2.80" filter="url(#bl)"/>
<path d="M111.30,299.20 Q120.00,299.60 128.70,299.20" stroke="#777" stroke-opacity="0.38" stroke-width="2.60" filter="url(#bl)"/>
<path d="M57.80,289.40 Q68.00,289.40 78.20,289.40" stroke="#777" stroke-opacity="0.3" stroke-width="1.60" filter="url(#bl)"/>
<path d="M85.80,289.40 Q95.00,289.40 104.20,289.40" stroke="#777" stroke-opacity="0.35" stroke-width="1.60" filter="url(#bl)"/>
<path d="M111.80,289.40 Q120.00,289.40 128.20,289.40" stroke="#777" stroke-opacity="0.35" stroke-width="1.60" filter="url(#bl)"/>
<path d="M136.40,289.40 Q145.00,289.40 153.60,289.40" stroke="#666" stroke-opacity="0.5" stroke-width="1.80" filter="url(#bl)"/>
<path d="M162.40,289.40 Q171.00,289.40 179.60,289.40" stroke="#666" stroke-opacity="0.45" stroke-width="1.80" filter="url(#bl)"/>
<path d="M187.90,289.40 Q196.00,289.40 204.10,289.40" stroke="#777" stroke-opacity="0.35" stroke-width="1.80" filter="url(#bl)"/>
<path d="M142.00,302.00 Q146.00,302.00 150.00,302.00" stroke="#fff" stroke-opacity="0.12" stroke-width="10.00" filter="url(#bl2)"/>
<path d="M168.00,302.00 Q172.00,302.00 176.00,302.00" stroke="#fff" stroke-opacity="0.12" stroke-width="10.00" filter="url(#bl2)"/>
<path d="M194.00,302.00 Q197.00,302.00 200.00,302.00" stroke="#fff" stroke-opacity="0.1" stroke-width="10.00" filter="url(#bl2)"/>
</g>
<text x="50.30" y="302.00" text-anchor="end" font-size="8.7" fill="#111" textLength="24.6" lengthAdjust="spacingAndGlyphs">ACSL6</text>
<text x="209.60" y="297.30" font-size="7.2" fill="#111" style="stroke:none">-75</text>
<clipPath id="bC3"><rect x="53.20" y="315.20" width="156.00" height="24.60"/></clipPath>
<linearGradient id="bC3g" x1="0" y1="0" x2="0" y2="1"><stop offset="0" stop-color="#dadada"/><stop offset="1" stop-color="#d4d4d4"/></linearGradient>
<rect x="53.20" y="315.20" width="156.00" height="24.60" fill="url(#bC3g)"/>
<g clip-path="url(#bC3)" fill="none" stroke-linecap="round">
<polyline points="54.5,324.71 56.0,324.80 57.5,325.01 59.0,325.31 60.5,325.67 62.0,326.06 63.5,326.44 65.0,326.77 66.5,326.97 68.0,326.92 69.5,326.67 71.0,326.32 72.5,325.93 74.0,325.55 75.5,325.20 77.0,324.93 78.5,324.76 80.0,324.70 81.5,324.76 83.0,324.94 84.5,325.22 86.0,325.57 87.5,325.96 89.0,326.35 90.5,326.69 92.0,326.93 93.5,326.97 95.0,326.75 96.5,326.42 98.0,326.04 99.5,325.65 101.0,325.29 102.5,324.99 104.0,324.79 105.5,324.70 107.0,324.74 108.5,324.89 110.0,325.14 111.5,325.47 113.0,325.85 114.5,326.25 116.0,326.60 117.5,326.88 119.0,326.99 120.5,326.82 122.0,326.51 123.5,326.14 125.0,325.75 126.5,325.38 128.0,325.06 129.5,324.83 131.0,324.72 132.5,324.72 134.0,324.83 135.5,325.06 137.0,325.38 138.5,325.75 140.0,326.14 141.5,326.51 143.0,326.82 144.5,326.99 146.0,326.88 147.5,326.60 149.0,326.25 150.5,325.85 152.0,325.47 153.5,325.14 155.0,324.89 156.5,324.74 158.0,324.70 159.5,324.79 161.0,324.99 162.5,325.29 164.0,325.65 165.5,326.04 167.0,326.42 168.5,326.75 170.0,326.97 171.5,326.93 173.0,326.69 174.5,326.35 176.0,325.96 177.5,325.57 179.0,325.22 180.5,324.94 182.0,324.76 183.5,324.70 185.0,324.76 186.5,324.93 188.0,325.20 189.5,325.55 191.0,325.93 192.5,326.32 194.0,326.67 195.5,326.92 197.0,326.97 198.5,326.77 200.0,326.44 201.5,326.06 203.0,325.67 204.5,325.31 206.0,325.01 207.5,324.80" stroke="#4a4a4a" stroke-opacity="0.7" stroke-width="5.7" stroke-linejoin="round" filter="url(#bl3)"/>
</g>
<text x="50.40" y="329.60" text-anchor="end" font-size="8.7" fill="#111">β-Actin</text>
<text x="209.60" y="325.90" font-size="7.2" fill="#111" style="stroke:none">-48</text>
<line x1="255.20" y1="216.20" x2="255.20" y2="344.50" stroke="#444" stroke-width="0.8"/>
<line x1="254.80" y1="344.10" x2="359.00" y2="344.10" stroke="#444" stroke-width="0.8"/>
<line x1="251.90" y1="344.10" x2="255.20" y2="344.10" stroke="#444" stroke-width="0.8"/>
<text x="250.40" y="347.20" text-anchor="end" font-size="8.9" fill="#111">0</text>
<line x1="251.90" y1="301.60" x2="255.20" y2="301.60" stroke="#444" stroke-width="0.8"/>
<text x="250.40" y="304.70" text-anchor="end" font-size="8.9" fill="#111">1</text>
<line x1="251.90" y1="259.00" x2="255.20" y2="259.00" stroke="#444" stroke-width="0.8"/>
<text x="250.40" y="262.10" text-anchor="end" font-size="8.9" fill="#111">2</text>
<line x1="251.90" y1="216.60" x2="255.20" y2="216.60" stroke="#444" stroke-width="0.8"/>
<text x="250.40" y="219.70" text-anchor="end" font-size="8.9" fill="#111">3</text>
<text transform="translate(236.20,280.00) rotate(-90)" text-anchor="middle" font-size="8.9" fill="#111">GPX4/β-Actin (fold change)</text>
<rect x="263.20" y="301.90" width="13.90" height="42.20" fill="#000"/>
<clipPath id="c17"><rect x="263.20" y="301.90" width="13.90" height="42.20"/></clipPath>
<circle cx="265.30" cy="301.40" r="1.5" fill="none" stroke="#000" stroke-width="0.75"/>
<circle cx="265.30" cy="301.40" r="1.05" fill="#fff" stroke="#fff" stroke-width="0.5" clip-path="url(#c17)"/>
<circle cx="270.30" cy="301.20" r="1.5" fill="none" stroke="#000" stroke-width="0.75"/>
<circle cx="270.30" cy="301.20" r="1.05" fill="#fff" stroke="#fff" stroke-width="0.5" clip-path="url(#c17)"/>
<circle cx="275.30" cy="301.40" r="1.5" fill="none" stroke="#000" stroke-width="0.75"/>
<circle cx="275.30" cy="301.40" r="1.05" fill="#fff" stroke="#fff" stroke-width="0.5" clip-path="url(#c17)"/>
<line x1="289.85" y1="328.50" x2="289.85" y2="332.00" stroke="#000" stroke-width="0.8"/>
<line x1="285.90" y1="328.50" x2="293.80" y2="328.50" stroke="#000" stroke-width="0.8"/>
<rect x="282.80" y="331.50" width="14.10" height="12.60" fill="#000"/>
<clipPath id="c18"><rect x="282.80" y="331.50" width="14.10" height="12.60"/></clipPath>
<circle cx="289.90" cy="327.00" r="1.5" fill="none" stroke="#000" stroke-width="0.75"/>
<circle cx="289.90" cy="327.00" r="1.05" fill="#fff" stroke="#fff" stroke-width="0.5" clip-path="url(#c18)"/>
<circle cx="284.30" cy="332.20" r="1.5" fill="none" stroke="#000" stroke-width="0.75"/>
<circle cx="284.30" cy="332.20" r="1.05" fill="#fff" stroke="#fff" stroke-width="0.5" clip-path="url(#c18)"/>
<circle cx="295.20" cy="332.20" r="1.5" fill="none" stroke="#000" stroke-width="0.75"/>
<circle cx="295.20" cy="332.20" r="1.05" fill="#fff" stroke="#fff" stroke-width="0.5" clip-path="url(#c18)"/>
<line x1="324.05" y1="259.50" x2="324.05" y2="264.10" stroke="#fb1c10" stroke-width="0.8"/>
<line x1="320.10" y1="259.50" x2="328.00" y2="259.50" stroke="#fb1c10" stroke-width="0.8"/>
<rect x="317.00" y="263.60" width="14.10" height="80.50" fill="#fb1c10"/>
<clipPath id="c19"><rect x="317.00" y="263.60" width="14.10" height="80.50"/></clipPath>
<circle cx="323.80" cy="254.80" r="1.5" fill="none" stroke="#fb1c10" stroke-width="0.75"/>
<circle cx="323.80" cy="254.80" r="1.05" fill="#fff" stroke="#fff" stroke-width="0.5" clip-path="url(#c19)"/>
<circle cx="318.40" cy="267.80" r="1.5" fill="none" stroke="#fb1c10" stroke-width="0.75"/>
<circle cx="318.40" cy="267.80" r="1.05" fill="#fff" stroke="#fff" stroke-width="0.5" clip-path="url(#c19)"/>
<circle cx="329.40" cy="267.80" r="1.5" fill="none" stroke="#fb1c10" stroke-width="0.75"/>
<circle cx="329.40" cy="267.80" r="1.05" fill="#fff" stroke="#fff" stroke-width="0.5" clip-path="url(#c19)"/>
<line x1="343.90" y1="308.10" x2="343.90" y2="313.90" stroke="#fb1c10" stroke-width="0.8"/>
<line x1="339.98" y1="308.10" x2="347.82" y2="308.10" stroke="#fb1c10" stroke-width="0.8"/>
<rect x="336.90" y="313.40" width="14.00" height="30.70" fill="#fb1c10"/>
<clipPath id="c20"><rect x="336.90" y="313.40" width="14.00" height="30.70"/></clipPath>
<circle cx="343.60" cy="305.90" r="1.5" fill="none" stroke="#fb1c10" stroke-width="0.75"/>
<circle cx="343.60" cy="305.90" r="1.05" fill="#fff" stroke="#fff" stroke-width="0.5" clip-path="url(#c20)"/>
<circle cx="343.60" cy="311.40" r="1.5" fill="none" stroke="#fb1c10" stroke-width="0.75"/>
<circle cx="343.60" cy="311.40" r="1.05" fill="#fff" stroke="#fff" stroke-width="0.5" clip-path="url(#c20)"/>
<circle cx="343.60" cy="323.20" r="1.5" fill="none" stroke="#fb1c10" stroke-width="0.75"/>
<circle cx="343.60" cy="323.20" r="1.05" fill="#fff" stroke="#fff" stroke-width="0.5" clip-path="url(#c20)"/>
<line x1="270.80" y1="232.20" x2="322.30" y2="232.20" stroke="#2a2a2a" stroke-width="0.85"/>
<text x="297.10" y="231.50" text-anchor="middle" font-size="6.6" fill="#111" letter-spacing="0.85" style="stroke-width:0.1px">**</text>
<line x1="271.50" y1="240.20" x2="290.90" y2="240.20" stroke="#2a2a2a" stroke-width="0.85"/>
<text x="281.50" y="239.50" text-anchor="middle" font-size="6.6" fill="#111" letter-spacing="0.85" style="stroke-width:0.1px">***</text>
<line x1="323.00" y1="240.20" x2="342.10" y2="240.20" stroke="#2a2a2a" stroke-width="0.85"/>
<text x="333.00" y="239.50" text-anchor="middle" font-size="6.6" fill="#111" letter-spacing="0.85" style="stroke-width:0.1px">**</text>
<text x="249.70" y="358.20" text-anchor="end" font-size="8.9" fill="#111">DHA</text>
<text x="270.80" y="358.20" text-anchor="middle" font-size="8.9" fill="#111">0</text>
<text x="290.40" y="358.20" text-anchor="middle" font-size="8.9" fill="#111">100</text>
<text x="324.80" y="358.20" text-anchor="middle" font-size="8.9" fill="#111">0</text>
<text x="344.40" y="358.20" text-anchor="middle" font-size="8.9" fill="#111">100</text>
<text x="355.90" y="358.20" font-size="8.9" fill="#111">(µM)</text>
<line x1="264.50" y1="363.20" x2="297.40" y2="363.20" stroke="#222" stroke-width="0.8"/>
<line x1="318.80" y1="363.20" x2="351.90" y2="363.20" stroke="#222" stroke-width="0.8"/>
<text x="281.30" y="372.50" text-anchor="middle" font-size="8.9" fill="#111">Scrambled</text>
<text x="335.60" y="372.50" text-anchor="middle" font-size="8.9" fill="#111">shACSL6</text>
<text x="456.70" y="219.70" text-anchor="middle" font-size="8.9" fill="#111">DHA (100 µM)</text>
<line x1="418.30" y1="228.40" x2="496.40" y2="228.40" stroke="#222" stroke-width="0.8"/>
<text x="414.80" y="240.10" text-anchor="end" font-size="8.9" fill="#111">shACSL6</text>
<text x="431.10" y="240.10" text-anchor="middle" font-size="8.9" fill="#111">-</text>
<text x="456.20" y="240.10" text-anchor="middle" font-size="8.9" fill="#111">+</text>
<text x="483.10" y="240.10" text-anchor="middle" font-size="8.9" fill="#111">+</text>
<text x="414.80" y="253.00" text-anchor="end" font-size="8.9" fill="#111">RSL3</text>
<text x="431.10" y="253.00" text-anchor="middle" font-size="8.9" fill="#111">0</text>
<text x="456.20" y="253.00" text-anchor="middle" font-size="8.9" fill="#111">0</text>
<text x="483.10" y="253.00" text-anchor="middle" font-size="8.9" fill="#111">3</text>
<text x="495.60" y="253.00" font-size="8.9" fill="#111">(µM)</text>
<text x="497.70" y="263.00" font-size="7.2" fill="#111" style="stroke:none">KD</text>
<clipPath id="bD1"><rect x="418.30" y="257.60" width="78.30" height="25.60"/></clipPath>
<linearGradient id="bD1g" x1="0" y1="0" x2="0" y2="1"><stop offset="0" stop-color="#dbdbdb"/><stop offset="1" stop-color="#d4d4d4"/></linearGradient>
<rect x="418.30" y="257.60" width="78.30" height="25.60" fill="url(#bD1g)"/>
<g clip-path="url(#bD1)" fill="none" stroke-linecap="round">
<path d="M421.50,269.60 Q429.50,269.60 437.50,269.60" stroke="#666" stroke-opacity="0.55" stroke-width="2.00" filter="url(#bl)"/>
<path d="M447.60,269.60 Q456.50,269.60 465.40,269.60" stroke="#333" stroke-opacity="0.68" stroke-width="2.60" filter="url(#bl)"/>
<path d="M474.70,269.60 Q483.00,269.60 491.30,269.60" stroke="#777" stroke-opacity="0.38" stroke-width="1.80" filter="url(#bl)"/>
</g>
<text x="415.60" y="273.30" text-anchor="end" font-size="8.9" fill="#111">GPX4</text>
<text x="497.40" y="281.80" font-size="7.2" fill="#111" style="stroke:none">-17</text>
<clipPath id="bD2"><rect x="418.30" y="288.20" width="78.30" height="24.40"/></clipPath>
<linearGradient id="bD2g" x1="0" y1="0" x2="0" y2="1"><stop offset="0" stop-color="#dadada"/><stop offset="1" stop-color="#d2d2d2"/></linearGradient>
<rect x="418.30" y="288.20" width="78.30" height="24.40" fill="url(#bD2g)"/>
<g clip-path="url(#bD2)" fill="none" stroke-linecap="round">
<path d="M422.00,299.80 Q431.50,301.60 441.00,299.80" stroke="#111" stroke-opacity="0.93" stroke-width="5.00" filter="url(#bl)"/>
<path d="M448.10,300.00 Q457.40,301.80 466.70,300.00" stroke="#111" stroke-opacity="0.93" stroke-width="5.00" filter="url(#bl)"/>
<path d="M473.80,299.80 Q483.10,301.60 492.40,299.80" stroke="#111" stroke-opacity="0.93" stroke-width="5.00" filter="url(#bl)"/>
</g>
<text x="415.80" y="300.90" text-anchor="end" font-size="8.7" fill="#111">β-Actin</text>
<text x="497.40" y="296.00" font-size="7.2" fill="#111" style="stroke:none">-48</text>
<line x1="418.30" y1="316.60" x2="418.30" y2="369.00" stroke="#444" stroke-width="0.8"/>
<line x1="417.90" y1="368.60" x2="496.90" y2="368.60" stroke="#444" stroke-width="0.8"/>
<line x1="414.40" y1="368.60" x2="418.30" y2="368.60" stroke="#444" stroke-width="0.8"/>
<text x="411.80" y="371.70" text-anchor="end" font-size="8.9" fill="#111">0</text>
<line x1="414.40" y1="351.40" x2="418.30" y2="351.40" stroke="#444" stroke-width="0.8"/>
<text x="411.80" y="354.50" text-anchor="end" font-size="8.9" fill="#111">1</text>
<line x1="414.40" y1="334.20" x2="418.30" y2="334.20" stroke="#444" stroke-width="0.8"/>
<text x="411.80" y="337.30" text-anchor="end" font-size="8.9" fill="#111">2</text>
<line x1="414.40" y1="317.00" x2="418.30" y2="317.00" stroke="#444" stroke-width="0.8"/>
<text x="411.80" y="320.10" text-anchor="end" font-size="8.9" fill="#111">3</text>
<text transform="translate(390.00,342.80) rotate(-90)" text-anchor="middle" font-size="8.65" fill="#111">GPX4/β-Actin</text>
<text transform="translate(401.10,343.00) rotate(-90)" text-anchor="middle" font-size="8.65" fill="#111">(fold change)</text>
<line x1="433.85" y1="349.80" x2="433.85" y2="352.90" stroke="#000" stroke-width="0.8"/>
<line x1="430.46" y1="349.80" x2="437.24" y2="349.80" stroke="#000" stroke-width="0.8"/>
<rect x="427.80" y="352.40" width="12.10" height="16.20" fill="#000"/>
<clipPath id="c21"><rect x="427.80" y="352.40" width="12.10" height="16.20"/></clipPath>
<circle cx="433.60" cy="347.80" r="1.5" fill="none" stroke="#000" stroke-width="0.75"/>
<circle cx="433.60" cy="347.80" r="1.05" fill="#fff" stroke="#fff" stroke-width="0.5" clip-path="url(#c21)"/>
<circle cx="429.40" cy="352.80" r="1.5" fill="none" stroke="#000" stroke-width="0.75"/>
<circle cx="429.40" cy="352.80" r="1.05" fill="#fff" stroke="#fff" stroke-width="0.5" clip-path="url(#c21)"/>
<circle cx="437.90" cy="353.30" r="1.5" fill="none" stroke="#000" stroke-width="0.75"/>
<circle cx="437.90" cy="353.30" r="1.05" fill="#fff" stroke="#fff" stroke-width="0.5" clip-path="url(#c21)"/>
<line x1="457.75" y1="329.00" x2="457.75" y2="334.50" stroke="#fb1c10" stroke-width="0.8"/>
<line x1="454.36" y1="329.00" x2="461.14" y2="329.00" stroke="#fb1c10" stroke-width="0.8"/>
<rect x="451.70" y="334.00" width="12.10" height="34.60" fill="#fb1c10"/>
<clipPath id="c22"><rect x="451.70" y="334.00" width="12.10" height="34.60"/></clipPath>
<circle cx="457.50" cy="327.70" r="1.5" fill="none" stroke="#fb1c10" stroke-width="0.75"/>
<circle cx="457.50" cy="327.70" r="1.05" fill="#fff" stroke="#fff" stroke-width="0.5" clip-path="url(#c22)"/>
<circle cx="457.50" cy="332.70" r="1.5" fill="none" stroke="#fb1c10" stroke-width="0.75"/>
<circle cx="457.50" cy="332.70" r="1.05" fill="#fff" stroke="#fff" stroke-width="0.5" clip-path="url(#c22)"/>
<circle cx="457.50" cy="341.60" r="1.5" fill="none" stroke="#fb1c10" stroke-width="0.75"/>
<circle cx="457.50" cy="341.60" r="1.05" fill="#fff" stroke="#fff" stroke-width="0.5" clip-path="url(#c22)"/>
<circle cx="476.30" cy="367.30" r="1.6" fill="none" stroke="#1b0bff" stroke-width="0.75"/>
<circle cx="481.20" cy="366.90" r="1.6" fill="none" stroke="#1b0bff" stroke-width="0.75"/>
<circle cx="486.00" cy="367.10" r="1.6" fill="none" stroke="#1b0bff" stroke-width="0.75"/>
<line x1="432.90" y1="321.50" x2="456.70" y2="321.50" stroke="#2a2a2a" stroke-width="0.85"/>
<text x="445.30" y="320.80" text-anchor="middle" font-size="6.6" fill="#111" letter-spacing="0.85" style="stroke-width:0.1px">*</text>
<line x1="460.50" y1="321.50" x2="482.40" y2="321.50" stroke="#2a2a2a" stroke-width="0.85"/>
<text x="471.50" y="320.80" text-anchor="middle" font-size="6.6" fill="#111" letter-spacing="0.85" style="stroke-width:0.1px">**</text>
<line x1="558.20" y1="217.10" x2="558.20" y2="333.40" stroke="#444" stroke-width="0.8"/>
<line x1="557.80" y1="333.00" x2="671.80" y2="333.00" stroke="#444" stroke-width="0.8"/>
<line x1="554.90" y1="333.00" x2="558.20" y2="333.00" stroke="#444" stroke-width="0.8"/>
<text x="554.00" y="336.10" text-anchor="end" font-size="8.9" fill="#111">0</text>
<line x1="554.90" y1="294.50" x2="558.20" y2="294.50" stroke="#444" stroke-width="0.8"/>
<text x="554.00" y="297.60" text-anchor="end" font-size="8.9" fill="#111">1</text>
<line x1="554.90" y1="256.00" x2="558.20" y2="256.00" stroke="#444" stroke-width="0.8"/>
<text x="554.00" y="259.10" text-anchor="end" font-size="8.9" fill="#111">2</text>
<line x1="554.90" y1="217.50" x2="558.20" y2="217.50" stroke="#444" stroke-width="0.8"/>
<text x="554.00" y="220.60" text-anchor="end" font-size="8.9" fill="#111">3</text>
<text transform="translate(527.70,276.50) rotate(-90)" text-anchor="middle" font-size="8.7" fill="#111">Relative colony number</text>
<text transform="translate(538.60,275.50) rotate(-90)" text-anchor="middle" font-size="8.9" fill="#111">(fold change)</text>
<line x1="574.40" y1="290.60" x2="574.40" y2="295.60" stroke="#000" stroke-width="0.8"/>
<line x1="569.98" y1="290.60" x2="578.82" y2="290.60" stroke="#000" stroke-width="0.8"/>
<rect x="566.50" y="295.10" width="15.80" height="37.90" fill="#000"/>
<clipPath id="c24"><rect x="566.50" y="295.10" width="15.80" height="37.90"/></clipPath>
<circle cx="574.60" cy="286.30" r="1.5" fill="none" stroke="#000" stroke-width="0.75"/>
<circle cx="574.60" cy="286.30" r="1.05" fill="#fff" stroke="#fff" stroke-width="0.5" clip-path="url(#c24)"/>
<circle cx="568.80" cy="298.10" r="1.5" fill="none" stroke="#000" stroke-width="0.75"/>
<circle cx="568.80" cy="298.10" r="1.05" fill="#fff" stroke="#fff" stroke-width="0.5" clip-path="url(#c24)"/>
<circle cx="580.30" cy="298.10" r="1.5" fill="none" stroke="#000" stroke-width="0.75"/>
<circle cx="580.30" cy="298.10" r="1.05" fill="#fff" stroke="#fff" stroke-width="0.5" clip-path="url(#c24)"/>
<line x1="596.20" y1="324.50" x2="596.20" y2="326.20" stroke="#000" stroke-width="0.8"/>
<line x1="591.83" y1="324.50" x2="600.57" y2="324.50" stroke="#000" stroke-width="0.8"/>
<rect x="588.40" y="325.70" width="15.60" height="7.30" fill="#000"/>
<clipPath id="c25"><rect x="588.40" y="325.70" width="15.60" height="7.30"/></clipPath>
<circle cx="595.90" cy="323.20" r="1.5" fill="none" stroke="#000" stroke-width="0.75"/>
<circle cx="595.90" cy="323.20" r="1.05" fill="#fff" stroke="#fff" stroke-width="0.5" clip-path="url(#c25)"/>
<circle cx="590.90" cy="327.00" r="1.5" fill="none" stroke="#000" stroke-width="0.75"/>
<circle cx="590.90" cy="327.00" r="1.05" fill="#fff" stroke="#fff" stroke-width="0.5" clip-path="url(#c25)"/>
<circle cx="601.40" cy="327.00" r="1.5" fill="none" stroke="#000" stroke-width="0.75"/>
<circle cx="601.40" cy="327.00" r="1.05" fill="#fff" stroke="#fff" stroke-width="0.5" clip-path="url(#c25)"/>
<line x1="633.35" y1="249.50" x2="633.35" y2="255.30" stroke="#fb1c10" stroke-width="0.8"/>
<line x1="629.01" y1="249.50" x2="637.69" y2="249.50" stroke="#fb1c10" stroke-width="0.8"/>
<rect x="625.60" y="254.80" width="15.50" height="78.20" fill="#fb1c10"/>
<clipPath id="c26"><rect x="625.60" y="254.80" width="15.50" height="78.20"/></clipPath>
<circle cx="633.10" cy="244.00" r="1.5" fill="none" stroke="#fb1c10" stroke-width="0.75"/>
<circle cx="633.10" cy="244.00" r="1.05" fill="#fff" stroke="#fff" stroke-width="0.5" clip-path="url(#c26)"/>
<circle cx="627.50" cy="259.80" r="1.5" fill="none" stroke="#fb1c10" stroke-width="0.75"/>
<circle cx="627.50" cy="259.80" r="1.05" fill="#fff" stroke="#fff" stroke-width="0.5" clip-path="url(#c26)"/>
<circle cx="639.20" cy="259.80" r="1.5" fill="none" stroke="#fb1c10" stroke-width="0.75"/>
<circle cx="639.20" cy="259.80" r="1.05" fill="#fff" stroke="#fff" stroke-width="0.5" clip-path="url(#c26)"/>
<line x1="655.20" y1="314.40" x2="655.20" y2="317.70" stroke="#fb1c10" stroke-width="0.8"/>
<line x1="650.83" y1="314.40" x2="659.57" y2="314.40" stroke="#fb1c10" stroke-width="0.8"/>
<rect x="647.40" y="317.20" width="15.60" height="15.80" fill="#fb1c10"/>
<clipPath id="c27"><rect x="647.40" y="317.20" width="15.60" height="15.80"/></clipPath>
<circle cx="655.00" cy="312.20" r="1.5" fill="none" stroke="#fb1c10" stroke-width="0.75"/>
<circle cx="655.00" cy="312.20" r="1.05" fill="#fff" stroke="#fff" stroke-width="0.5" clip-path="url(#c27)"/>
<circle cx="649.60" cy="319.70" r="1.5" fill="none" stroke="#fb1c10" stroke-width="0.75"/>
<circle cx="649.60" cy="319.70" r="1.05" fill="#fff" stroke="#fff" stroke-width="0.5" clip-path="url(#c27)"/>
<circle cx="661.00" cy="319.00" r="1.5" fill="none" stroke="#fb1c10" stroke-width="0.75"/>
<circle cx="661.00" cy="319.00" r="1.05" fill="#fff" stroke="#fff" stroke-width="0.5" clip-path="url(#c27)"/>
<line x1="575.10" y1="231.40" x2="631.10" y2="231.40" stroke="#2a2a2a" stroke-width="0.85"/>
<text x="607.60" y="230.70" text-anchor="middle" font-size="6.6" fill="#111" letter-spacing="0.85" style="stroke-width:0.1px">**</text>
<line x1="634.90" y1="231.40" x2="653.20" y2="231.40" stroke="#2a2a2a" stroke-width="0.85"/>
<text x="644.30" y="230.70" text-anchor="middle" font-size="6.6" fill="#111" letter-spacing="0.85" style="stroke-width:0.1px">***</text>
<text x="553.20" y="346.80" text-anchor="end" font-size="8.9" fill="#111">DHA</text>
<text x="574.60" y="346.80" text-anchor="middle" font-size="8.9" fill="#111">3</text>
<text x="595.90" y="346.80" text-anchor="middle" font-size="8.9" fill="#111">3</text>
<text x="632.80" y="346.80" text-anchor="middle" font-size="8.9" fill="#111">3</text>
<text x="655.50" y="346.80" text-anchor="middle" font-size="8.9" fill="#111">3</text>
<text x="666.60" y="346.80" font-size="8.9" fill="#111">(µM)</text>
<text x="553.20" y="358.50" text-anchor="end" font-size="8.9" fill="#111">RSL3</text>
<text x="574.60" y="358.50" text-anchor="middle" font-size="8.9" fill="#111">0</text>
<text x="595.90" y="358.50" text-anchor="middle" font-size="8.9" fill="#111">0.3</text>
<text x="632.80" y="358.50" text-anchor="middle" font-size="8.9" fill="#111">0</text>
<text x="655.40" y="358.50" text-anchor="middle" font-size="8.9" fill="#111">0.3</text>
<text x="666.60" y="358.50" font-size="8.9" fill="#111">(µM)</text>
<line x1="568.80" y1="363.30" x2="602.20" y2="363.30" stroke="#222" stroke-width="0.8"/>
<line x1="627.80" y1="363.30" x2="661.20" y2="363.30" stroke="#222" stroke-width="0.8"/>
<text x="585.40" y="372.40" text-anchor="middle" font-size="8.9" fill="#111">Scrambled</text>
<text x="644.40" y="372.40" text-anchor="middle" font-size="8.9" fill="#111">shACSL6</text>
<text x="105.50" y="391.40" text-anchor="middle" font-size="8.9" fill="#111">LoVo</text>
<line x1="53.30" y1="398.40" x2="157.80" y2="398.40" stroke="#222" stroke-width="0.8"/>
<text x="80.90" y="409.70" text-anchor="middle" font-size="8.9" fill="#111">Vector</text>
<line x1="53.30" y1="414.50" x2="103.50" y2="414.50" stroke="#222" stroke-width="0.8"/>
<text x="131.90" y="409.70" text-anchor="middle" font-size="8.9" fill="#111">V5-ACSL6</text>
<line x1="106.80" y1="414.50" x2="157.80" y2="414.50" stroke="#222" stroke-width="0.8"/>
<text x="49.70" y="425.30" text-anchor="end" font-size="8.9" fill="#111">DHA</text>
<text x="66.60" y="425.30" text-anchor="middle" font-size="8.9" fill="#111">0</text>
<text x="93.00" y="425.30" text-anchor="middle" font-size="8.9" fill="#111">300</text>
<text x="120.60" y="425.30" text-anchor="middle" font-size="8.9" fill="#111">0</text>
<text x="145.70" y="425.30" text-anchor="middle" font-size="8.9" fill="#111">300</text>
<text x="159.40" y="425.30" font-size="8.9" fill="#111">(µM)</text>
<text x="159.00" y="435.20" font-size="7.2" fill="#111" style="stroke:none">KD</text>
<clipPath id="bF1"><rect x="53.30" y="430.30" width="104.50" height="26.40"/></clipPath>
<linearGradient id="bF1g" x1="0" y1="0" x2="0" y2="1"><stop offset="0" stop-color="#dedede"/><stop offset="1" stop-color="#d5d5d5"/></linearGradient>
<rect x="53.30" y="430.30" width="104.50" height="26.40" fill="url(#bF1g)"/>
<g clip-path="url(#bF1)" fill="none" stroke-linecap="round">
<path d="M55.90,441.60 Q65.70,442.80 75.50,443.20" stroke="#222" stroke-opacity="0.78" stroke-width="2.80" filter="url(#bl)"/>
<path d="M84.50,443.80 Q92.40,444.40 100.30,444.20" stroke="#666" stroke-opacity="0.42" stroke-width="2.20" filter="url(#bl)"/>
<path d="M108.80,444.70 Q117.40,444.90 126.00,443.90" stroke="#333" stroke-opacity="0.7" stroke-width="2.80" filter="url(#bl)"/>
<path d="M134.40,443.10 Q143.50,442.60 152.60,442.10" stroke="#888" stroke-opacity="0.25" stroke-width="1.80" filter="url(#bl)"/>
</g>
<text x="50.50" y="446.10" text-anchor="end" font-size="8.9" fill="#111">GPX4</text>
<text x="159.00" y="454.50" font-size="7.2" fill="#111" style="stroke:none">-17</text>
<clipPath id="bF2"><rect x="53.30" y="462.10" width="104.50" height="25.40"/></clipPath>
<linearGradient id="bF2g" x1="0" y1="0" x2="0" y2="1"><stop offset="0" stop-color="#dfdfdf"/><stop offset="1" stop-color="#d8d8d8"/></linearGradient>
<rect x="53.30" y="462.10" width="104.50" height="25.40" fill="url(#bF2g)"/>
<g clip-path="url(#bF2)" fill="none" stroke-linecap="round">
<path d="M107.50,473.70 Q116.40,474.10 125.30,473.70" stroke="#111" stroke-opacity="0.9" stroke-width="5.80" filter="url(#bl)"/>
<path d="M133.30,473.70 Q142.80,474.10 152.30,473.70" stroke="#111" stroke-opacity="0.9" stroke-width="5.80" filter="url(#bl)"/>
<path d="M108.70,483.60 Q116.00,483.60 123.30,483.60" stroke="#999" stroke-opacity="0.2" stroke-width="1.40" filter="url(#bl)"/>
<path d="M134.70,483.60 Q142.00,483.60 149.30,483.60" stroke="#999" stroke-opacity="0.2" stroke-width="1.40" filter="url(#bl)"/>
</g>
<text x="50.50" y="477.80" text-anchor="end" font-size="8.5" fill="#111">V5</text>
<text x="159.00" y="470.90" font-size="7.2" fill="#111" style="stroke:none">-75</text>
<clipPath id="bF3"><rect x="53.30" y="492.50" width="104.50" height="25.80"/></clipPath>
<linearGradient id="bF3g" x1="0" y1="0" x2="0" y2="1"><stop offset="0" stop-color="#dcdcdc"/><stop offset="1" stop-color="#d4d4d4"/></linearGradient>
<rect x="53.30" y="492.50" width="104.50" height="25.80" fill="url(#bF3g)"/>
<g clip-path="url(#bF3)" fill="none" stroke-linecap="round">
<path d="M57.00,505.20 Q65.70,506.20 74.40,505.20" stroke="#0a0a0a" stroke-opacity="0.95" stroke-width="5.40" filter="url(#bl)"/>
<path d="M82.00,505.20 Q91.00,506.20 100.00,505.20" stroke="#0a0a0a" stroke-opacity="0.95" stroke-width="5.60" filter="url(#bl)"/>
<path d="M107.70,505.40 Q116.60,506.40 125.50,505.40" stroke="#0a0a0a" stroke-opacity="0.95" stroke-width="5.40" filter="url(#bl)"/>
<path d="M133.40,505.00 Q142.70,506.00 152.00,505.00" stroke="#0a0a0a" stroke-opacity="0.95" stroke-width="5.00" filter="url(#bl)"/>
</g>
<text x="50.70" y="507.60" text-anchor="end" font-size="8.7" fill="#111">β-Actin</text>
<text x="159.00" y="502.60" font-size="7.2" fill="#111" style="stroke:none">-48</text>
<line x1="255.20" y1="389.00" x2="255.20" y2="517.00" stroke="#444" stroke-width="0.8"/>
<line x1="254.80" y1="516.60" x2="359.50" y2="516.60" stroke="#444" stroke-width="0.8"/>
<line x1="251.90" y1="516.60" x2="255.20" y2="516.60" stroke="#444" stroke-width="0.8"/>
<text x="250.60" y="519.70" text-anchor="end" font-size="8.9" fill="#111">0</text>
<line x1="251.90" y1="474.20" x2="255.20" y2="474.20" stroke="#444" stroke-width="0.8"/>
<text x="250.60" y="477.30" text-anchor="end" font-size="8.9" fill="#111">0.5</text>
<line x1="251.90" y1="431.80" x2="255.20" y2="431.80" stroke="#444" stroke-width="0.8"/>
<text x="250.60" y="434.90" text-anchor="end" font-size="8.9" fill="#111">1.0</text>
<line x1="251.90" y1="389.40" x2="255.20" y2="389.40" stroke="#444" stroke-width="0.8"/>
<text x="250.60" y="392.50" text-anchor="end" font-size="8.9" fill="#111">1.5</text>
<text transform="translate(236.20,451.50) rotate(-90)" text-anchor="middle" font-size="8.9" fill="#111">GPX4/β-Actin (fold change)</text>
<line x1="270.65" y1="429.50" x2="270.65" y2="432.60" stroke="#000" stroke-width="0.8"/>
<line x1="266.65" y1="429.50" x2="274.65" y2="429.50" stroke="#000" stroke-width="0.8"/>
<rect x="263.50" y="432.10" width="14.30" height="84.50" fill="#000"/>
<clipPath id="c28"><rect x="263.50" y="432.10" width="14.30" height="84.50"/></clipPath>
<circle cx="270.80" cy="427.80" r="1.5" fill="none" stroke="#000" stroke-width="0.75"/>
<circle cx="270.80" cy="427.80" r="1.05" fill="#fff" stroke="#fff" stroke-width="0.5" clip-path="url(#c28)"/>
<circle cx="270.80" cy="432.40" r="1.5" fill="none" stroke="#000" stroke-width="0.75"/>
<circle cx="270.80" cy="432.40" r="1.05" fill="#fff" stroke="#fff" stroke-width="0.5" clip-path="url(#c28)"/>
<circle cx="270.80" cy="436.10" r="1.5" fill="none" stroke="#000" stroke-width="0.75"/>
<circle cx="270.80" cy="436.10" r="1.05" fill="#fff" stroke="#fff" stroke-width="0.5" clip-path="url(#c28)"/>
<line x1="290.35" y1="463.10" x2="290.35" y2="466.10" stroke="#000" stroke-width="0.8"/>
<line x1="286.40" y1="463.10" x2="294.30" y2="463.10" stroke="#000" stroke-width="0.8"/>
<rect x="283.30" y="465.60" width="14.10" height="51.00" fill="#000"/>
<clipPath id="c29"><rect x="283.30" y="465.60" width="14.10" height="51.00"/></clipPath>
<circle cx="290.40" cy="461.30" r="1.5" fill="none" stroke="#000" stroke-width="0.75"/>
<circle cx="290.40" cy="461.30" r="1.05" fill="#fff" stroke="#fff" stroke-width="0.5" clip-path="url(#c29)"/>
<circle cx="285.40" cy="467.60" r="1.5" fill="none" stroke="#000" stroke-width="0.75"/>
<circle cx="285.40" cy="467.60" r="1.05" fill="#fff" stroke="#fff" stroke-width="0.5" clip-path="url(#c29)"/>
<circle cx="295.90" cy="466.80" r="1.5" fill="none" stroke="#000" stroke-width="0.75"/>
<circle cx="295.90" cy="466.80" r="1.05" fill="#fff" stroke="#fff" stroke-width="0.5" clip-path="url(#c29)"/>
<line x1="324.55" y1="423.30" x2="324.55" y2="427.80" stroke="#fb1c10" stroke-width="0.8"/>
<line x1="320.49" y1="423.30" x2="328.61" y2="423.30" stroke="#fb1c10" stroke-width="0.8"/>
<rect x="317.30" y="427.30" width="14.50" height="89.30" fill="#fb1c10"/>
<clipPath id="c30"><rect x="317.30" y="427.30" width="14.50" height="89.30"/></clipPath>
<circle cx="324.80" cy="420.30" r="1.5" fill="none" stroke="#fb1c10" stroke-width="0.75"/>
<circle cx="324.80" cy="420.30" r="1.05" fill="#fff" stroke="#fff" stroke-width="0.5" clip-path="url(#c30)"/>
<circle cx="319.40" cy="429.80" r="1.5" fill="none" stroke="#fb1c10" stroke-width="0.75"/>
<circle cx="319.40" cy="429.80" r="1.05" fill="#fff" stroke="#fff" stroke-width="0.5" clip-path="url(#c30)"/>
<circle cx="330.00" cy="429.80" r="1.5" fill="none" stroke="#fb1c10" stroke-width="0.75"/>
<circle cx="330.00" cy="429.80" r="1.05" fill="#fff" stroke="#fff" stroke-width="0.5" clip-path="url(#c30)"/>
<line x1="344.40" y1="485.20" x2="344.40" y2="489.40" stroke="#fb1c10" stroke-width="0.8"/>
<line x1="340.48" y1="485.20" x2="348.32" y2="485.20" stroke="#fb1c10" stroke-width="0.8"/>
<rect x="337.40" y="488.90" width="14.00" height="27.70" fill="#fb1c10"/>
<clipPath id="c31"><rect x="337.40" y="488.90" width="14.00" height="27.70"/></clipPath>
<circle cx="344.40" cy="482.70" r="1.5" fill="none" stroke="#fb1c10" stroke-width="0.75"/>
<circle cx="344.40" cy="482.70" r="1.05" fill="#fff" stroke="#fff" stroke-width="0.5" clip-path="url(#c31)"/>
<circle cx="344.40" cy="487.70" r="1.5" fill="none" stroke="#fb1c10" stroke-width="0.75"/>
<circle cx="344.40" cy="487.70" r="1.05" fill="#fff" stroke="#fff" stroke-width="0.5" clip-path="url(#c31)"/>
<circle cx="344.40" cy="496.00" r="1.5" fill="none" stroke="#fb1c10" stroke-width="0.75"/>
<circle cx="344.40" cy="496.00" r="1.05" fill="#fff" stroke="#fff" stroke-width="0.5" clip-path="url(#c31)"/>
<line x1="272.30" y1="403.90" x2="291.60" y2="403.90" stroke="#2a2a2a" stroke-width="0.85"/>
<text x="282.20" y="403.20" text-anchor="middle" font-size="6.6" fill="#111" letter-spacing="0.85" style="stroke-width:0.1px">**</text>
<line x1="325.60" y1="403.90" x2="344.40" y2="403.90" stroke="#2a2a2a" stroke-width="0.85"/>
<text x="335.20" y="403.20" text-anchor="middle" font-size="6.6" fill="#111" letter-spacing="0.85" style="stroke-width:0.1px">****</text>
<text x="249.70" y="530.40" text-anchor="end" font-size="8.9" fill="#111">DHA</text>
<text x="271.50" y="530.40" text-anchor="middle" font-size="8.9" fill="#111">0</text>
<text x="290.90" y="530.40" text-anchor="middle" font-size="8.9" fill="#111">300</text>
<text x="325.10" y="530.40" text-anchor="middle" font-size="8.9" fill="#111">0</text>
<text x="344.90" y="530.40" text-anchor="middle" font-size="8.9" fill="#111">300</text>
<text x="355.60" y="530.40" font-size="8.9" fill="#111">(µM)</text>
<line x1="264.50" y1="534.70" x2="298.40" y2="534.70" stroke="#222" stroke-width="0.8"/>
<line x1="318.80" y1="534.70" x2="352.40" y2="534.70" stroke="#222" stroke-width="0.8"/>
<text x="282.10" y="547.20" text-anchor="middle" font-size="8.9" fill="#111">Vector</text>
<text x="334.80" y="547.20" text-anchor="middle" font-size="8.9" fill="#111">V5-ACSL6</text>
<text x="456.70" y="391.40" text-anchor="middle" font-size="8.9" fill="#111">DHA (100 µM)</text>
<line x1="418.30" y1="397.60" x2="495.70" y2="397.60" stroke="#222" stroke-width="0.8"/>
<text x="414.80" y="408.90" text-anchor="end" font-size="8.9" fill="#111">V5-ACSL6</text>
<text x="431.10" y="408.90" text-anchor="middle" font-size="8.9" fill="#111">-</text>
<text x="456.20" y="408.90" text-anchor="middle" font-size="8.9" fill="#111">+</text>
<text x="483.10" y="408.90" text-anchor="middle" font-size="8.9" fill="#111">+</text>
<text x="414.80" y="424.00" text-anchor="end" font-size="8.9" fill="#111">Fer-1</text>
<text x="431.10" y="424.00" text-anchor="middle" font-size="8.9" fill="#111">0</text>
<text x="456.20" y="424.00" text-anchor="middle" font-size="8.9" fill="#111">0</text>
<text x="483.10" y="424.00" text-anchor="middle" font-size="8.9" fill="#111">1</text>
<text x="495.60" y="424.00" font-size="8.9" fill="#111">(µM)</text>
<text x="497.70" y="435.60" font-size="7.2" fill="#111" style="stroke:none">KD</text>
<clipPath id="bG1"><rect x="418.30" y="429.90" width="78.30" height="25.40"/></clipPath>
<linearGradient id="bG1g" x1="0" y1="0" x2="0" y2="1"><stop offset="0" stop-color="#dcdcdc"/><stop offset="1" stop-color="#d5d5d5"/></linearGradient>
<rect x="418.30" y="429.90" width="78.30" height="25.40" fill="url(#bG1g)"/>
<g clip-path="url(#bG1)" fill="none" stroke-linecap="round">
<path d="M422.00,441.50 Q430.50,441.70 439.00,441.50" stroke="#050505" stroke-opacity="0.97" stroke-width="3.80" filter="url(#bl)"/>
<path d="M447.60,441.80 Q456.20,441.80 464.80,441.80" stroke="#777" stroke-opacity="0.42" stroke-width="2.00" filter="url(#bl)"/>
<path d="M474.90,441.70 Q483.70,441.40 492.50,441.10" stroke="#444" stroke-opacity="0.6" stroke-width="2.40" filter="url(#bl)"/>
</g>
<text x="414.80" y="446.60" text-anchor="end" font-size="8.9" fill="#111">GPX4</text>
<text x="497.40" y="455.20" font-size="7.2" fill="#111" style="stroke:none">-17</text>
<clipPath id="bG2"><rect x="418.30" y="460.20" width="78.30" height="24.40"/></clipPath>
<linearGradient id="bG2g" x1="0" y1="0" x2="0" y2="1"><stop offset="0" stop-color="#dadada"/><stop offset="1" stop-color="#d3d3d3"/></linearGradient>
<rect x="418.30" y="460.20" width="78.30" height="24.40" fill="url(#bG2g)"/>
<g clip-path="url(#bG2)" fill="none" stroke-linecap="round">
<path d="M422.00,470.90 Q431.10,472.30 440.20,470.90" stroke="#111" stroke-opacity="0.93" stroke-width="5.00" filter="url(#bl)"/>
<path d="M447.60,471.10 Q456.80,472.50 466.00,471.10" stroke="#111" stroke-opacity="0.93" stroke-width="4.80" filter="url(#bl)"/>
<path d="M473.50,470.90 Q482.90,472.30 492.30,470.90" stroke="#111" stroke-opacity="0.93" stroke-width="5.20" filter="url(#bl)"/>
</g>
<text x="415.40" y="475.70" text-anchor="end" font-size="8.7" fill="#111">β-Actin</text>
<text x="497.40" y="470.60" font-size="7.2" fill="#111" style="stroke:none">-48</text>
<line x1="418.30" y1="491.60" x2="418.30" y2="544.60" stroke="#444" stroke-width="0.8"/>
<line x1="417.90" y1="544.20" x2="497.70" y2="544.20" stroke="#444" stroke-width="0.8"/>
<line x1="415.20" y1="544.20" x2="418.30" y2="544.20" stroke="#444" stroke-width="0.8"/>
<text x="415.60" y="547.30" text-anchor="end" font-size="8.9" fill="#111">0</text>
<line x1="415.20" y1="526.80" x2="418.30" y2="526.80" stroke="#444" stroke-width="0.8"/>
<text x="415.60" y="529.90" text-anchor="end" font-size="8.9" fill="#111">0.5</text>
<line x1="415.20" y1="509.40" x2="418.30" y2="509.40" stroke="#444" stroke-width="0.8"/>
<text x="415.60" y="512.50" text-anchor="end" font-size="8.9" fill="#111">1.0</text>
<line x1="415.20" y1="492.00" x2="418.30" y2="492.00" stroke="#444" stroke-width="0.8"/>
<text x="415.60" y="495.10" text-anchor="end" font-size="8.9" fill="#111">1.5</text>
<text transform="translate(389.90,517.80) rotate(-90)" text-anchor="middle" font-size="8.65" fill="#111">GPX4/β-Actin</text>
<text transform="translate(401.00,517.80) rotate(-90)" text-anchor="middle" font-size="8.65" fill="#111">(fold change)</text>
<rect x="428.30" y="509.50" width="12.10" height="34.70" fill="#000"/>
<clipPath id="c32"><rect x="428.30" y="509.50" width="12.10" height="34.70"/></clipPath>
<circle cx="437.90" cy="507.30" r="1.5" fill="none" stroke="#000" stroke-width="0.75"/>
<circle cx="437.90" cy="507.30" r="1.05" fill="#fff" stroke="#fff" stroke-width="0.5" clip-path="url(#c32)"/>
<circle cx="434.10" cy="509.20" r="1.5" fill="none" stroke="#000" stroke-width="0.75"/>
<circle cx="434.10" cy="509.20" r="1.05" fill="#fff" stroke="#fff" stroke-width="0.5" clip-path="url(#c32)"/>
<circle cx="434.60" cy="512.80" r="1.5" fill="none" stroke="#000" stroke-width="0.75"/>
<circle cx="434.60" cy="512.80" r="1.05" fill="#fff" stroke="#fff" stroke-width="0.5" clip-path="url(#c32)"/>
<rect x="452.20" y="539.70" width="12.10" height="4.50" fill="#fb1c10"/>
<clipPath id="c33"><rect x="452.20" y="539.70" width="12.10" height="4.50"/></clipPath>
<circle cx="454.20" cy="539.20" r="1.5" fill="none" stroke="#fb1c10" stroke-width="0.75"/>
<circle cx="454.20" cy="539.20" r="1.05" fill="#fff" stroke="#fff" stroke-width="0.5" clip-path="url(#c33)"/>
<circle cx="458.50" cy="538.40" r="1.5" fill="none" stroke="#fb1c10" stroke-width="0.75"/>
<circle cx="458.50" cy="538.40" r="1.05" fill="#fff" stroke="#fff" stroke-width="0.5" clip-path="url(#c33)"/>
<circle cx="462.50" cy="539.20" r="1.5" fill="none" stroke="#fb1c10" stroke-width="0.75"/>
<circle cx="462.50" cy="539.20" r="1.05" fill="#fff" stroke="#fff" stroke-width="0.5" clip-path="url(#c33)"/>
<rect x="476.30" y="534.20" width="11.80" height="10.00" fill="#1b0bff"/>
<clipPath id="c34"><rect x="476.30" y="534.20" width="11.80" height="10.00"/></clipPath>
<circle cx="478.10" cy="534.20" r="1.5" fill="none" stroke="#1b0bff" stroke-width="0.75"/>
<circle cx="478.10" cy="534.20" r="1.05" fill="#fff" stroke="#fff" stroke-width="0.5" clip-path="url(#c34)"/>
<circle cx="482.60" cy="532.20" r="1.5" fill="none" stroke="#1b0bff" stroke-width="0.75"/>
<circle cx="482.60" cy="532.20" r="1.05" fill="#fff" stroke="#fff" stroke-width="0.5" clip-path="url(#c34)"/>
<circle cx="486.90" cy="533.70" r="1.5" fill="none" stroke="#1b0bff" stroke-width="0.75"/>
<circle cx="486.90" cy="533.70" r="1.05" fill="#fff" stroke="#fff" stroke-width="0.5" clip-path="url(#c34)"/>
<line x1="433.40" y1="496.50" x2="457.50" y2="496.50" stroke="#2a2a2a" stroke-width="0.85"/>
<text x="445.80" y="495.80" text-anchor="middle" font-size="6.6" fill="#111" letter-spacing="0.85" style="stroke-width:0.1px">***</text>
<line x1="461.00" y1="496.50" x2="483.10" y2="496.50" stroke="#2a2a2a" stroke-width="0.85"/>
<text x="472.20" y="495.80" text-anchor="middle" font-size="6.6" fill="#111" letter-spacing="0.85" style="stroke-width:0.1px">**</text>
<line x1="558.70" y1="388.90" x2="558.70" y2="504.90" stroke="#444" stroke-width="0.8"/>
<line x1="558.30" y1="504.50" x2="671.80" y2="504.50" stroke="#444" stroke-width="0.8"/>
<line x1="555.40" y1="504.50" x2="558.70" y2="504.50" stroke="#444" stroke-width="0.8"/>
<text x="554.40" y="507.60" text-anchor="end" font-size="8.9" fill="#111">0</text>
<line x1="555.40" y1="466.10" x2="558.70" y2="466.10" stroke="#444" stroke-width="0.8"/>
<text x="554.40" y="469.20" text-anchor="end" font-size="8.9" fill="#111">0.5</text>
<line x1="555.40" y1="427.70" x2="558.70" y2="427.70" stroke="#444" stroke-width="0.8"/>
<text x="554.40" y="430.80" text-anchor="end" font-size="8.9" fill="#111">1.0</text>
<line x1="555.40" y1="389.30" x2="558.70" y2="389.30" stroke="#444" stroke-width="0.8"/>
<text x="554.40" y="392.40" text-anchor="end" font-size="8.9" fill="#111">1.5</text>
<text transform="translate(527.70,449.50) rotate(-90)" text-anchor="middle" font-size="8.7" fill="#111">Relative colony number</text>
<text transform="translate(538.60,448.50) rotate(-90)" text-anchor="middle" font-size="8.9" fill="#111">(fold change)</text>
<line x1="575.60" y1="413.50" x2="575.60" y2="428.30" stroke="#000" stroke-width="0.8"/>
<line x1="571.23" y1="413.50" x2="579.97" y2="413.50" stroke="#000" stroke-width="0.8"/>
<rect x="567.80" y="427.80" width="15.60" height="76.70" fill="#000"/>
<clipPath id="c35"><rect x="567.80" y="427.80" width="15.60" height="76.70"/></clipPath>
<circle cx="575.30" cy="400.90" r="1.5" fill="none" stroke="#000" stroke-width="0.75"/>
<circle cx="575.30" cy="400.90" r="1.05" fill="#fff" stroke="#fff" stroke-width="0.5" clip-path="url(#c35)"/>
<circle cx="575.30" cy="431.60" r="1.5" fill="none" stroke="#000" stroke-width="0.75"/>
<circle cx="575.30" cy="431.60" r="1.05" fill="#fff" stroke="#fff" stroke-width="0.5" clip-path="url(#c35)"/>
<circle cx="575.30" cy="450.40" r="1.5" fill="none" stroke="#000" stroke-width="0.75"/>
<circle cx="575.30" cy="450.40" r="1.05" fill="#fff" stroke="#fff" stroke-width="0.5" clip-path="url(#c35)"/>
<line x1="597.30" y1="408.90" x2="597.30" y2="417.70" stroke="#000" stroke-width="0.8"/>
<line x1="592.99" y1="408.90" x2="601.61" y2="408.90" stroke="#000" stroke-width="0.8"/>
<rect x="589.60" y="417.20" width="15.40" height="87.30" fill="#000"/>
<clipPath id="c36"><rect x="589.60" y="417.20" width="15.40" height="87.30"/></clipPath>
<circle cx="597.20" cy="403.20" r="1.5" fill="none" stroke="#000" stroke-width="0.75"/>
<circle cx="597.20" cy="403.20" r="1.05" fill="#fff" stroke="#fff" stroke-width="0.5" clip-path="url(#c36)"/>
<circle cx="597.20" cy="417.20" r="1.5" fill="none" stroke="#000" stroke-width="0.75"/>
<circle cx="597.20" cy="417.20" r="1.05" fill="#fff" stroke="#fff" stroke-width="0.5" clip-path="url(#c36)"/>
<circle cx="597.20" cy="431.60" r="1.5" fill="none" stroke="#000" stroke-width="0.75"/>
<circle cx="597.20" cy="431.60" r="1.05" fill="#fff" stroke="#fff" stroke-width="0.5" clip-path="url(#c36)"/>
<line x1="633.85" y1="485.90" x2="633.85" y2="487.70" stroke="#fb1c10" stroke-width="0.8"/>
<line x1="629.51" y1="485.90" x2="638.19" y2="485.90" stroke="#fb1c10" stroke-width="0.8"/>
<rect x="626.10" y="487.20" width="15.50" height="17.30" fill="#fb1c10"/>
<clipPath id="c37"><rect x="626.10" y="487.20" width="15.50" height="17.30"/></clipPath>
<circle cx="628.60" cy="487.20" r="1.5" fill="none" stroke="#fb1c10" stroke-width="0.75"/>
<circle cx="628.60" cy="487.20" r="1.05" fill="#fff" stroke="#fff" stroke-width="0.5" clip-path="url(#c37)"/>
<circle cx="634.10" cy="485.20" r="1.5" fill="none" stroke="#fb1c10" stroke-width="0.75"/>
<circle cx="634.10" cy="485.20" r="1.05" fill="#fff" stroke="#fff" stroke-width="0.5" clip-path="url(#c37)"/>
<circle cx="639.90" cy="487.00" r="1.5" fill="none" stroke="#fb1c10" stroke-width="0.75"/>
<circle cx="639.90" cy="487.00" r="1.05" fill="#fff" stroke="#fff" stroke-width="0.5" clip-path="url(#c37)"/>
<line x1="656.00" y1="458.30" x2="656.00" y2="463.80" stroke="#fb1c10" stroke-width="0.8"/>
<line x1="651.63" y1="458.30" x2="660.37" y2="458.30" stroke="#fb1c10" stroke-width="0.8"/>
<rect x="648.20" y="463.30" width="15.60" height="41.20" fill="#fb1c10"/>
<clipPath id="c38"><rect x="648.20" y="463.30" width="15.60" height="41.20"/></clipPath>
<circle cx="655.70" cy="453.00" r="1.5" fill="none" stroke="#fb1c10" stroke-width="0.75"/>
<circle cx="655.70" cy="453.00" r="1.05" fill="#fff" stroke="#fff" stroke-width="0.5" clip-path="url(#c38)"/>
<circle cx="649.90" cy="468.30" r="1.5" fill="none" stroke="#fb1c10" stroke-width="0.75"/>
<circle cx="649.90" cy="468.30" r="1.05" fill="#fff" stroke="#fff" stroke-width="0.5" clip-path="url(#c38)"/>
<circle cx="662.00" cy="467.10" r="1.5" fill="none" stroke="#fb1c10" stroke-width="0.75"/>
<circle cx="662.00" cy="467.10" r="1.05" fill="#fff" stroke="#fff" stroke-width="0.5" clip-path="url(#c38)"/>
<line x1="575.10" y1="395.10" x2="631.80" y2="395.10" stroke="#2a2a2a" stroke-width="0.85"/>
<text x="608.40" y="394.40" text-anchor="middle" font-size="6.6" fill="#111" letter-spacing="0.85" style="stroke-width:0.1px">*</text>
<line x1="635.40" y1="395.10" x2="653.70" y2="395.10" stroke="#2a2a2a" stroke-width="0.85"/>
<text x="644.30" y="394.40" text-anchor="middle" font-size="6.6" fill="#111" letter-spacing="0.85" style="stroke-width:0.1px">*</text>
<text x="554.00" y="517.90" text-anchor="end" font-size="8.9" fill="#111">DHA</text>
<text x="575.10" y="517.90" text-anchor="middle" font-size="8.9" fill="#111">3</text>
<text x="596.40" y="517.90" text-anchor="middle" font-size="8.9" fill="#111">3</text>
<text x="633.10" y="517.90" text-anchor="middle" font-size="8.9" fill="#111">3</text>
<text x="655.70" y="517.90" text-anchor="middle" font-size="8.9" fill="#111">3</text>
<text x="666.60" y="517.90" font-size="8.9" fill="#111">(µM)</text>
<text x="554.60" y="530.00" text-anchor="end" font-size="8.9" fill="#111">Fer-1</text>
<text x="575.10" y="530.00" text-anchor="middle" font-size="8.9" fill="#111">0</text>
<text x="596.40" y="530.00" text-anchor="middle" font-size="8.9" fill="#111">0.1</text>
<text x="633.10" y="530.00" text-anchor="middle" font-size="8.9" fill="#111">0</text>
<text x="655.70" y="530.00" text-anchor="middle" font-size="8.9" fill="#111">0.1</text>
<text x="666.60" y="530.00" font-size="8.9" fill="#111">(µM)</text>
<line x1="569.50" y1="534.70" x2="602.70" y2="534.70" stroke="#222" stroke-width="0.8"/>
<line x1="627.80" y1="534.70" x2="661.20" y2="534.70" stroke="#222" stroke-width="0.8"/>
<text x="586.60" y="547.60" text-anchor="middle" font-size="8.9" fill="#111">Vector</text>
<text x="644.90" y="547.60" text-anchor="middle" font-size="8.9" fill="#111">V5-ACSL6</text>
<line x1="52.30" y1="571.50" x2="52.30" y2="704.60" stroke="#444" stroke-width="0.8"/>
<line x1="51.90" y1="704.20" x2="331.70" y2="704.20" stroke="#444" stroke-width="0.8"/>
<line x1="49.00" y1="704.20" x2="52.30" y2="704.20" stroke="#444" stroke-width="0.8"/>
<text x="47.70" y="707.30" text-anchor="end" font-size="8.9" fill="#111">0</text>
<line x1="49.00" y1="638.05" x2="52.30" y2="638.05" stroke="#444" stroke-width="0.8"/>
<text x="47.70" y="641.15" text-anchor="end" font-size="8.9" fill="#111">1</text>
<line x1="49.00" y1="571.90" x2="52.30" y2="571.90" stroke="#444" stroke-width="0.8"/>
<text x="47.70" y="575.00" text-anchor="end" font-size="8.9" fill="#111">2</text>
<text transform="translate(18.60,638.00) rotate(-90)" text-anchor="middle" font-size="8.9" fill="#111">BODIPY 581/591 C11</text>
<text transform="translate(30.00,638.00) rotate(-90)" text-anchor="middle" font-size="8.9" fill="#111">Mean fluorescence intensity</text>
<text transform="translate(40.60,638.00) rotate(-90)" text-anchor="middle" font-size="8.9" fill="#111">(fold change)</text>
<text x="97.50" y="574.10" text-anchor="middle" font-size="8.9" fill="#111">Vector</text>
<text x="192.30" y="574.10" text-anchor="middle" font-size="8.9" fill="#111">V5-ACSL6</text>
<text x="287.20" y="574.10" text-anchor="middle" font-size="8.9" fill="#111">shACSL6</text>
<line x1="71.60" y1="593.30" x2="123.10" y2="593.30" stroke="#2a2a2a" stroke-width="0.85"/>
<text x="97.90" y="592.60" text-anchor="middle" font-size="6.6" fill="#111" letter-spacing="0.85" style="stroke-width:0.1px">*</text>
<line x1="166.40" y1="593.30" x2="217.90" y2="593.30" stroke="#2a2a2a" stroke-width="0.85"/>
<text x="192.70" y="592.60" text-anchor="middle" font-size="6.6" fill="#111" letter-spacing="0.85" style="stroke-width:0.1px">*</text>
<line x1="261.40" y1="593.30" x2="312.90" y2="593.30" stroke="#2a2a2a" stroke-width="0.85"/>
<text x="287.20" y="590.70" text-anchor="middle" font-size="8.9" fill="#111">n.s.</text>
<line x1="71.85" y1="636.20" x2="71.85" y2="638.60" stroke="#000" stroke-width="0.8"/>
<line x1="66.78" y1="636.20" x2="76.92" y2="636.20" stroke="#000" stroke-width="0.8"/>
<rect x="62.80" y="638.10" width="18.10" height="66.10" fill="#000"/>
<clipPath id="c39"><rect x="62.80" y="638.10" width="18.10" height="66.10"/></clipPath>
<circle cx="72.10" cy="636.00" r="1.5" fill="none" stroke="#000" stroke-width="0.75"/>
<circle cx="72.10" cy="636.00" r="1.05" fill="#fff" stroke="#fff" stroke-width="0.5" clip-path="url(#c39)"/>
<circle cx="79.10" cy="637.50" r="1.5" fill="none" stroke="#000" stroke-width="0.75"/>
<circle cx="79.10" cy="637.50" r="1.05" fill="#fff" stroke="#fff" stroke-width="0.5" clip-path="url(#c39)"/>
<circle cx="64.60" cy="640.60" r="1.5" fill="none" stroke="#000" stroke-width="0.75"/>
<circle cx="64.60" cy="640.60" r="1.05" fill="#fff" stroke="#fff" stroke-width="0.5" clip-path="url(#c39)"/>
<line x1="97.60" y1="627.80" x2="97.60" y2="632.30" stroke="#000" stroke-width="0.8"/>
<line x1="92.45" y1="627.80" x2="102.75" y2="627.80" stroke="#000" stroke-width="0.8"/>
<rect x="88.40" y="631.80" width="18.40" height="72.40" fill="#000"/>
<clipPath id="c40"><rect x="88.40" y="631.80" width="18.40" height="72.40"/></clipPath>
<circle cx="97.50" cy="624.90" r="1.5" fill="none" stroke="#000" stroke-width="0.75"/>
<circle cx="97.50" cy="624.90" r="1.05" fill="#fff" stroke="#fff" stroke-width="0.5" clip-path="url(#c40)"/>
<circle cx="97.50" cy="631.80" r="1.5" fill="none" stroke="#000" stroke-width="0.75"/>
<circle cx="97.50" cy="631.80" r="1.05" fill="#fff" stroke="#fff" stroke-width="0.5" clip-path="url(#c40)"/>
<circle cx="97.50" cy="637.10" r="1.5" fill="none" stroke="#000" stroke-width="0.75"/>
<circle cx="97.50" cy="637.10" r="1.05" fill="#fff" stroke="#fff" stroke-width="0.5" clip-path="url(#c40)"/>
<line x1="123.35" y1="619.60" x2="123.35" y2="621.60" stroke="#000" stroke-width="0.8"/>
<line x1="118.28" y1="619.60" x2="128.42" y2="619.60" stroke="#000" stroke-width="0.8"/>
<rect x="114.30" y="621.10" width="18.10" height="83.10" fill="#000"/>
<clipPath id="c41"><rect x="114.30" y="621.10" width="18.10" height="83.10"/></clipPath>
<circle cx="123.10" cy="618.40" r="1.5" fill="none" stroke="#000" stroke-width="0.75"/>
<circle cx="123.10" cy="618.40" r="1.05" fill="#fff" stroke="#fff" stroke-width="0.5" clip-path="url(#c41)"/>
<circle cx="130.70" cy="619.90" r="1.5" fill="none" stroke="#000" stroke-width="0.75"/>
<circle cx="130.70" cy="619.90" r="1.05" fill="#fff" stroke="#fff" stroke-width="0.5" clip-path="url(#c41)"/>
<circle cx="115.80" cy="623.40" r="1.5" fill="none" stroke="#000" stroke-width="0.75"/>
<circle cx="115.80" cy="623.40" r="1.05" fill="#fff" stroke="#fff" stroke-width="0.5" clip-path="url(#c41)"/>
<line x1="166.80" y1="633.00" x2="166.80" y2="638.60" stroke="#fb1c10" stroke-width="0.8"/>
<line x1="161.65" y1="633.00" x2="171.95" y2="633.00" stroke="#fb1c10" stroke-width="0.8"/>
<rect x="157.60" y="638.10" width="18.40" height="66.10" fill="#fb1c10"/>
<clipPath id="c42"><rect x="157.60" y="638.10" width="18.40" height="66.10"/></clipPath>
<circle cx="166.90" cy="628.40" r="1.5" fill="none" stroke="#fb1c10" stroke-width="0.75"/>
<circle cx="166.90" cy="628.40" r="1.05" fill="#fff" stroke="#fff" stroke-width="0.5" clip-path="url(#c42)"/>
<circle cx="166.90" cy="640.90" r="1.5" fill="none" stroke="#fb1c10" stroke-width="0.75"/>
<circle cx="166.90" cy="640.90" r="1.05" fill="#fff" stroke="#fff" stroke-width="0.5" clip-path="url(#c42)"/>
<circle cx="166.90" cy="644.60" r="1.5" fill="none" stroke="#fb1c10" stroke-width="0.75"/>
<circle cx="166.90" cy="644.60" r="1.05" fill="#fff" stroke="#fff" stroke-width="0.5" clip-path="url(#c42)"/>
<line x1="192.45" y1="612.30" x2="192.45" y2="621.60" stroke="#fb1c10" stroke-width="0.8"/>
<line x1="187.33" y1="612.30" x2="197.57" y2="612.30" stroke="#fb1c10" stroke-width="0.8"/>
<rect x="183.30" y="621.10" width="18.30" height="83.10" fill="#fb1c10"/>
<clipPath id="c43"><rect x="183.30" y="621.10" width="18.30" height="83.10"/></clipPath>
<circle cx="192.30" cy="604.00" r="1.5" fill="none" stroke="#fb1c10" stroke-width="0.75"/>
<circle cx="192.30" cy="604.00" r="1.05" fill="#fff" stroke="#fff" stroke-width="0.5" clip-path="url(#c43)"/>
<circle cx="192.30" cy="625.90" r="1.5" fill="none" stroke="#fb1c10" stroke-width="0.75"/>
<circle cx="192.30" cy="625.90" r="1.05" fill="#fff" stroke="#fff" stroke-width="0.5" clip-path="url(#c43)"/>
<circle cx="192.30" cy="632.40" r="1.5" fill="none" stroke="#fb1c10" stroke-width="0.75"/>
<circle cx="192.30" cy="632.40" r="1.05" fill="#fff" stroke="#fff" stroke-width="0.5" clip-path="url(#c43)"/>
<line x1="217.90" y1="603.30" x2="217.90" y2="610.80" stroke="#fb1c10" stroke-width="0.8"/>
<line x1="212.69" y1="603.30" x2="223.11" y2="603.30" stroke="#fb1c10" stroke-width="0.8"/>
<rect x="208.60" y="610.30" width="18.60" height="93.90" fill="#fb1c10"/>
<clipPath id="c44"><rect x="208.60" y="610.30" width="18.60" height="93.90"/></clipPath>
<circle cx="217.90" cy="599.50" r="1.5" fill="none" stroke="#fb1c10" stroke-width="0.75"/>
<circle cx="217.90" cy="599.50" r="1.05" fill="#fff" stroke="#fff" stroke-width="0.5" clip-path="url(#c44)"/>
<circle cx="217.90" cy="606.60" r="1.5" fill="none" stroke="#fb1c10" stroke-width="0.75"/>
<circle cx="217.90" cy="606.60" r="1.05" fill="#fff" stroke="#fff" stroke-width="0.5" clip-path="url(#c44)"/>
<circle cx="217.90" cy="624.60" r="1.5" fill="none" stroke="#fb1c10" stroke-width="0.75"/>
<circle cx="217.90" cy="624.60" r="1.05" fill="#fff" stroke="#fff" stroke-width="0.5" clip-path="url(#c44)"/>
<line x1="261.40" y1="635.50" x2="261.40" y2="638.60" stroke="#1b0bff" stroke-width="0.8"/>
<line x1="256.19" y1="635.50" x2="266.61" y2="635.50" stroke="#1b0bff" stroke-width="0.8"/>
<rect x="252.10" y="638.10" width="18.60" height="66.10" fill="#1b0bff"/>
<clipPath id="c45"><rect x="252.10" y="638.10" width="18.60" height="66.10"/></clipPath>
<circle cx="261.90" cy="632.40" r="1.5" fill="none" stroke="#1b0bff" stroke-width="0.75"/>
<circle cx="261.90" cy="632.40" r="1.05" fill="#fff" stroke="#fff" stroke-width="0.5" clip-path="url(#c45)"/>
<circle cx="254.00" cy="641.90" r="1.5" fill="none" stroke="#1b0bff" stroke-width="0.75"/>
<circle cx="254.00" cy="641.90" r="1.05" fill="#fff" stroke="#fff" stroke-width="0.5" clip-path="url(#c45)"/>
<circle cx="269.20" cy="640.10" r="1.5" fill="none" stroke="#1b0bff" stroke-width="0.75"/>
<circle cx="269.20" cy="640.10" r="1.05" fill="#fff" stroke="#fff" stroke-width="0.5" clip-path="url(#c45)"/>
<line x1="286.85" y1="630.40" x2="286.85" y2="635.60" stroke="#1b0bff" stroke-width="0.8"/>
<line x1="281.73" y1="630.40" x2="291.97" y2="630.40" stroke="#1b0bff" stroke-width="0.8"/>
<rect x="277.70" y="635.10" width="18.30" height="69.10" fill="#1b0bff"/>
<clipPath id="c46"><rect x="277.70" y="635.10" width="18.30" height="69.10"/></clipPath>
<circle cx="287.00" cy="626.70" r="1.5" fill="none" stroke="#1b0bff" stroke-width="0.75"/>
<circle cx="287.00" cy="626.70" r="1.05" fill="#fff" stroke="#fff" stroke-width="0.5" clip-path="url(#c46)"/>
<circle cx="287.00" cy="637.10" r="1.5" fill="none" stroke="#1b0bff" stroke-width="0.75"/>
<circle cx="287.00" cy="637.10" r="1.05" fill="#fff" stroke="#fff" stroke-width="0.5" clip-path="url(#c46)"/>
<circle cx="287.00" cy="641.90" r="1.5" fill="none" stroke="#1b0bff" stroke-width="0.75"/>
<circle cx="287.00" cy="641.90" r="1.05" fill="#fff" stroke="#fff" stroke-width="0.5" clip-path="url(#c46)"/>
<line x1="312.50" y1="618.60" x2="312.50" y2="624.10" stroke="#1b0bff" stroke-width="0.8"/>
<line x1="307.35" y1="618.60" x2="317.65" y2="618.60" stroke="#1b0bff" stroke-width="0.8"/>
<rect x="303.30" y="623.60" width="18.40" height="80.60" fill="#1b0bff"/>
<clipPath id="c47"><rect x="303.30" y="623.60" width="18.40" height="80.60"/></clipPath>
<circle cx="312.90" cy="614.10" r="1.5" fill="none" stroke="#1b0bff" stroke-width="0.75"/>
<circle cx="312.90" cy="614.10" r="1.05" fill="#fff" stroke="#fff" stroke-width="0.5" clip-path="url(#c47)"/>
<circle cx="312.90" cy="624.60" r="1.5" fill="none" stroke="#1b0bff" stroke-width="0.75"/>
<circle cx="312.90" cy="624.60" r="1.05" fill="#fff" stroke="#fff" stroke-width="0.5" clip-path="url(#c47)"/>
<circle cx="312.90" cy="631.70" r="1.5" fill="none" stroke="#1b0bff" stroke-width="0.75"/>
<circle cx="312.90" cy="631.70" r="1.05" fill="#fff" stroke="#fff" stroke-width="0.5" clip-path="url(#c47)"/>
<text x="47.70" y="716.70" text-anchor="end" font-size="8.9" fill="#111">DHA</text>
<text x="72.10" y="716.70" text-anchor="middle" font-size="8.9" fill="#111">0</text>
<text x="97.50" y="716.70" text-anchor="middle" font-size="8.9" fill="#111">100</text>
<text x="123.10" y="716.70" text-anchor="middle" font-size="8.9" fill="#111">300</text>
<text x="166.90" y="716.70" text-anchor="middle" font-size="8.9" fill="#111">0</text>
<text x="192.10" y="716.70" text-anchor="middle" font-size="8.9" fill="#111">100</text>
<text x="217.90" y="716.70" text-anchor="middle" font-size="8.9" fill="#111">300</text>
<text x="260.90" y="716.70" text-anchor="middle" font-size="8.9" fill="#111">0</text>
<text x="287.00" y="716.70" text-anchor="middle" font-size="8.9" fill="#111">100</text>
<text x="312.40" y="716.70" text-anchor="middle" font-size="8.9" fill="#111">300</text>
<text x="324.80" y="716.70" font-size="8.9" fill="#111">(µM)</text>
</svg>
</body></html>
